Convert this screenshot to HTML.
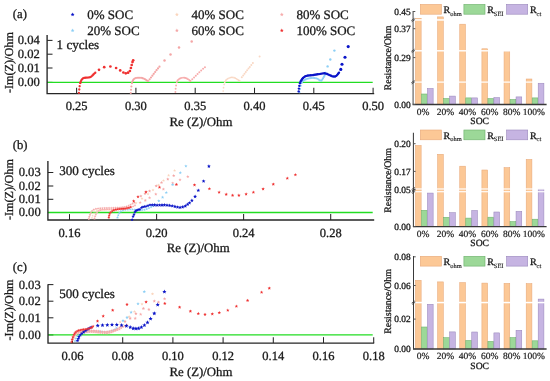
<!DOCTYPE html><html><head><meta charset="utf-8"><style>html,body{margin:0;padding:0;background:#fff;} svg{display:block;will-change:transform;} text{font-family:"Liberation Serif", serif;text-rendering:geometricPrecision;stroke:#1a1a1a;stroke-width:0.3px;}</style></head><body>
<svg width="550" height="381" viewBox="0 0 550 381">
<rect width="550" height="381" fill="#fff"/>
<line x1="76.6" y1="93.65" x2="76.6" y2="87.75" stroke="#262626" stroke-width="1.05"/>
<text x="76.60" y="110.20" font-size="12.5" text-anchor="middle" fill="#1a1a1a" >0.25</text>
<line x1="135.9" y1="93.65" x2="135.9" y2="87.75" stroke="#262626" stroke-width="1.05"/>
<text x="135.90" y="110.20" font-size="12.5" text-anchor="middle" fill="#1a1a1a" >0.30</text>
<line x1="195.2" y1="93.65" x2="195.2" y2="87.75" stroke="#262626" stroke-width="1.05"/>
<text x="195.20" y="110.20" font-size="12.5" text-anchor="middle" fill="#1a1a1a" >0.35</text>
<line x1="254.5" y1="93.65" x2="254.5" y2="87.75" stroke="#262626" stroke-width="1.05"/>
<text x="254.50" y="110.20" font-size="12.5" text-anchor="middle" fill="#1a1a1a" >0.40</text>
<line x1="313.8" y1="93.65" x2="313.8" y2="87.75" stroke="#262626" stroke-width="1.05"/>
<text x="313.80" y="110.20" font-size="12.5" text-anchor="middle" fill="#1a1a1a" >0.45</text>
<line x1="373.1" y1="93.65" x2="373.1" y2="87.75" stroke="#262626" stroke-width="1.05"/>
<text x="373.10" y="110.20" font-size="12.5" text-anchor="middle" fill="#1a1a1a" >0.50</text>
<line x1="47.1" y1="40.4" x2="52.5" y2="40.4" stroke="#262626" stroke-width="1.05"/>
<text x="39.80" y="44.00" font-size="12.6" text-anchor="end" fill="#1a1a1a" >0.04</text>
<line x1="47.1" y1="54.2" x2="52.5" y2="54.2" stroke="#262626" stroke-width="1.05"/>
<text x="39.80" y="57.80" font-size="12.6" text-anchor="end" fill="#1a1a1a" >0.02</text>
<line x1="47.1" y1="68.0" x2="52.5" y2="68.0" stroke="#262626" stroke-width="1.05"/>
<text x="39.80" y="71.60" font-size="12.6" text-anchor="end" fill="#1a1a1a" >0.01</text>
<line x1="47.1" y1="82.4" x2="52.5" y2="82.4" stroke="#262626" stroke-width="1.05"/>
<text x="39.80" y="86.00" font-size="12.6" text-anchor="end" fill="#1a1a1a" >0.00</text>
<line x1="47.1" y1="82.4" x2="372.7" y2="82.4" stroke="#22dd22" stroke-width="1.35"/>
<path d="M47.1 35 V93.65 H374.2" fill="none" stroke="#262626" stroke-width="1.35"/>
<text x="201.00" y="125.60" font-size="12.8" text-anchor="middle" fill="#1a1a1a" >Re (Z)/Ohm</text>
<text x="56.60" y="48.70" font-size="13.1" text-anchor="start" fill="#1a1a1a" >1 cycles</text>
<text x="12.80" y="18.40" font-size="12.7" text-anchor="start" fill="#1a1a1a" >(a)</text>
<text transform="translate(13.0 62.6) rotate(-90)" font-size="12.2" text-anchor="middle" fill="#1a1a1a">-Im(Z)/Ohm</text>
<polygon points="72.60,12.60 73.13,13.87 74.50,13.98 73.46,14.88 73.78,16.22 72.60,15.50 71.42,16.22 71.74,14.88 70.70,13.98 72.07,13.87" fill="#0a14c8"/>
<text x="87.20" y="19.20" font-size="13" text-anchor="start" fill="#1a1a1a" >0% SOC</text>
<polygon points="72.60,28.50 73.13,29.77 74.50,29.88 73.46,30.78 73.78,32.12 72.60,31.40 71.42,32.12 71.74,30.78 70.70,29.88 72.07,29.77" fill="#8ccff5"/>
<text x="87.20" y="35.10" font-size="13" text-anchor="start" fill="#1a1a1a" >20% SOC</text>
<polygon points="176.90,12.60 177.43,13.87 178.80,13.98 177.76,14.88 178.08,16.22 176.90,15.50 175.72,16.22 176.04,14.88 175.00,13.98 176.37,13.87" fill="#fad5bd"/>
<text x="191.50" y="19.20" font-size="13" text-anchor="start" fill="#1a1a1a" >40% SOC</text>
<polygon points="176.90,28.50 177.43,29.77 178.80,29.88 177.76,30.78 178.08,32.12 176.90,31.40 175.72,32.12 176.04,30.78 175.00,29.88 176.37,29.77" fill="#f4a6a6"/>
<text x="191.50" y="35.10" font-size="13" text-anchor="start" fill="#1a1a1a" >60% SOC</text>
<polygon points="281.80,12.60 282.33,13.87 283.70,13.98 282.66,14.88 282.98,16.22 281.80,15.50 280.62,16.22 280.94,14.88 279.90,13.98 281.27,13.87" fill="#f7acac"/>
<text x="296.40" y="19.20" font-size="13" text-anchor="start" fill="#1a1a1a" >80% SOC</text>
<polygon points="281.80,28.50 282.33,29.77 283.70,29.88 282.66,30.78 282.98,32.12 281.80,31.40 280.62,32.12 280.94,30.78 279.90,29.88 281.27,29.77" fill="#ef3030"/>
<text x="296.40" y="35.10" font-size="13" text-anchor="start" fill="#1a1a1a" >100% SOC</text>
<circle cx="223.20" cy="91.00" r="0.85" fill="#f9d8c4"/>
<circle cx="223.55" cy="87.72" r="0.85" fill="#f9d8c4"/>
<circle cx="224.15" cy="84.48" r="0.85" fill="#f9d8c4"/>
<circle cx="224.70" cy="82.50" r="0.85" fill="#f9d8c4"/>
<circle cx="225.30" cy="81.35" r="0.85" fill="#f9d8c4"/>
<circle cx="225.90" cy="80.19" r="0.85" fill="#f9d8c4"/>
<circle cx="226.87" cy="79.35" r="0.85" fill="#f9d8c4"/>
<circle cx="227.91" cy="78.57" r="0.85" fill="#f9d8c4"/>
<circle cx="229.08" cy="78.01" r="0.85" fill="#f9d8c4"/>
<circle cx="230.29" cy="77.56" r="0.85" fill="#f9d8c4"/>
<circle cx="231.57" cy="77.36" r="0.85" fill="#f9d8c4"/>
<circle cx="232.86" cy="77.43" r="0.85" fill="#f9d8c4"/>
<circle cx="234.13" cy="77.66" r="0.85" fill="#f9d8c4"/>
<circle cx="235.32" cy="78.19" r="0.85" fill="#f9d8c4"/>
<circle cx="236.46" cy="78.80" r="0.85" fill="#f9d8c4"/>
<circle cx="237.55" cy="79.51" r="0.85" fill="#f9d8c4"/>
<circle cx="238.66" cy="80.19" r="0.85" fill="#f9d8c4"/>
<circle cx="239.77" cy="80.86" r="0.85" fill="#f9d8c4"/>
<circle cx="241.80" cy="77.30" r="1.0" fill="#f9d8c4"/>
<circle cx="243.20" cy="75.50" r="1.0" fill="#f9d8c4"/>
<circle cx="244.50" cy="73.70" r="1.0" fill="#f9d8c4"/>
<circle cx="245.80" cy="72.00" r="1.0" fill="#f9d8c4"/>
<circle cx="247.10" cy="70.20" r="1.0" fill="#f9d8c4"/>
<circle cx="248.50" cy="68.60" r="1.0" fill="#f9d8c4"/>
<circle cx="249.80" cy="67.10" r="1.0" fill="#f9d8c4"/>
<circle cx="251.30" cy="65.00" r="1.0" fill="#f9d8c4"/>
<circle cx="252.90" cy="63.00" r="1.0" fill="#f9d8c4"/>
<circle cx="259.60" cy="56.40" r="1.0" fill="#f9d8c4"/>
<circle cx="175.40" cy="92.00" r="0.95" fill="#f7acac"/>
<circle cx="175.64" cy="88.71" r="0.95" fill="#f7acac"/>
<circle cx="176.09" cy="85.44" r="0.95" fill="#f7acac"/>
<circle cx="176.81" cy="82.23" r="0.95" fill="#f7acac"/>
<circle cx="177.50" cy="80.50" r="0.95" fill="#f7acac"/>
<circle cx="178.42" cy="79.58" r="0.95" fill="#f7acac"/>
<circle cx="179.43" cy="78.79" r="0.95" fill="#f7acac"/>
<circle cx="180.59" cy="78.20" r="0.95" fill="#f7acac"/>
<circle cx="181.83" cy="77.83" r="0.95" fill="#f7acac"/>
<circle cx="183.10" cy="77.61" r="0.95" fill="#f7acac"/>
<circle cx="184.40" cy="77.74" r="0.95" fill="#f7acac"/>
<circle cx="185.65" cy="78.03" r="0.95" fill="#f7acac"/>
<circle cx="186.88" cy="78.46" r="0.95" fill="#f7acac"/>
<circle cx="187.98" cy="79.14" r="0.95" fill="#f7acac"/>
<circle cx="189.07" cy="79.86" r="0.95" fill="#f7acac"/>
<circle cx="190.08" cy="80.67" r="0.95" fill="#f7acac"/>
<circle cx="190.50" cy="81.00" r="1.0" fill="#f7acac"/>
<circle cx="192.27" cy="79.23" r="1.0" fill="#f7acac"/>
<circle cx="194.04" cy="77.46" r="1.0" fill="#f7acac"/>
<circle cx="195.80" cy="75.70" r="1.0" fill="#f7acac"/>
<circle cx="197.57" cy="73.93" r="1.0" fill="#f7acac"/>
<circle cx="199.34" cy="72.16" r="1.0" fill="#f7acac"/>
<circle cx="201.16" cy="70.45" r="1.0" fill="#f7acac"/>
<circle cx="203.08" cy="68.85" r="1.0" fill="#f7acac"/>
<circle cx="204.95" cy="67.19" r="1.0" fill="#f7acac"/>
<circle cx="130.80" cy="93.00" r="1.05" fill="#f4a6a6"/>
<circle cx="131.03" cy="89.71" r="1.05" fill="#f4a6a6"/>
<circle cx="131.38" cy="86.43" r="1.05" fill="#f4a6a6"/>
<circle cx="131.90" cy="83.17" r="1.05" fill="#f4a6a6"/>
<circle cx="132.30" cy="81.50" r="1.05" fill="#f4a6a6"/>
<circle cx="132.97" cy="80.39" r="1.05" fill="#f4a6a6"/>
<circle cx="133.71" cy="79.33" r="1.05" fill="#f4a6a6"/>
<circle cx="134.72" cy="78.52" r="1.05" fill="#f4a6a6"/>
<circle cx="135.92" cy="78.07" r="1.05" fill="#f4a6a6"/>
<circle cx="137.18" cy="77.79" r="1.05" fill="#f4a6a6"/>
<circle cx="138.48" cy="77.73" r="1.05" fill="#f4a6a6"/>
<circle cx="139.78" cy="77.74" r="1.05" fill="#f4a6a6"/>
<circle cx="141.08" cy="77.82" r="1.05" fill="#f4a6a6"/>
<circle cx="142.34" cy="78.13" r="1.05" fill="#f4a6a6"/>
<circle cx="143.56" cy="78.55" r="1.05" fill="#f4a6a6"/>
<circle cx="144.75" cy="79.09" r="1.05" fill="#f4a6a6"/>
<circle cx="145.85" cy="79.77" r="1.05" fill="#f4a6a6"/>
<circle cx="146.96" cy="80.45" r="1.05" fill="#f4a6a6"/>
<circle cx="148.00" cy="81.00" r="1.1" fill="#f4a6a6"/>
<circle cx="149.61" cy="79.36" r="1.1" fill="#f4a6a6"/>
<circle cx="150.99" cy="77.52" r="1.1" fill="#f4a6a6"/>
<circle cx="152.37" cy="75.68" r="1.1" fill="#f4a6a6"/>
<circle cx="153.75" cy="73.84" r="1.1" fill="#f4a6a6"/>
<circle cx="155.13" cy="72.00" r="1.1" fill="#f4a6a6"/>
<circle cx="156.55" cy="70.19" r="1.1" fill="#f4a6a6"/>
<circle cx="158.00" cy="68.40" r="1.1" fill="#f4a6a6"/>
<circle cx="159.47" cy="66.64" r="1.1" fill="#f4a6a6"/>
<circle cx="164.50" cy="60.50" r="1.25" fill="#f4a6a6"/>
<circle cx="170.50" cy="54.50" r="1.25" fill="#f4a6a6"/>
<circle cx="179.00" cy="47.50" r="1.25" fill="#f4a6a6"/>
<circle cx="191.70" cy="41.60" r="1.25" fill="#f4a6a6"/>
<circle cx="78.90" cy="92.80" r="1.15" fill="#ef3030"/>
<circle cx="79.27" cy="89.52" r="1.15" fill="#ef3030"/>
<circle cx="79.64" cy="86.24" r="1.15" fill="#ef3030"/>
<circle cx="80.26" cy="83.00" r="1.15" fill="#ef3030"/>
<circle cx="80.30" cy="82.80" r="1.15" fill="#ef3030"/>
<circle cx="80.76" cy="81.58" r="1.15" fill="#ef3030"/>
<circle cx="81.22" cy="80.37" r="1.15" fill="#ef3030"/>
<circle cx="82.02" cy="79.34" r="1.15" fill="#ef3030"/>
<circle cx="82.93" cy="78.46" r="1.15" fill="#ef3030"/>
<circle cx="84.11" cy="77.93" r="1.15" fill="#ef3030"/>
<circle cx="85.39" cy="77.76" r="1.15" fill="#ef3030"/>
<circle cx="86.68" cy="77.70" r="1.15" fill="#ef3030"/>
<circle cx="87.98" cy="77.60" r="1.15" fill="#ef3030"/>
<circle cx="89.27" cy="77.44" r="1.15" fill="#ef3030"/>
<circle cx="90.50" cy="77.03" r="1.15" fill="#ef3030"/>
<circle cx="91.56" cy="76.32" r="1.15" fill="#ef3030"/>
<circle cx="92.53" cy="75.45" r="1.15" fill="#ef3030"/>
<circle cx="93.40" cy="74.49" r="1.15" fill="#ef3030"/>
<circle cx="94.31" cy="73.57" r="1.15" fill="#ef3030"/>
<circle cx="95.31" cy="72.74" r="1.15" fill="#ef3030"/>
<circle cx="99.00" cy="69.80" r="1.35" fill="#ef3030"/>
<circle cx="104.20" cy="67.20" r="1.35" fill="#ef3030"/>
<circle cx="110.40" cy="66.50" r="1.35" fill="#ef3030"/>
<circle cx="116.10" cy="68.00" r="1.35" fill="#ef3030"/>
<circle cx="120.20" cy="70.40" r="1.35" fill="#ef3030"/>
<circle cx="123.40" cy="72.50" r="1.35" fill="#ef3030"/>
<circle cx="125.80" cy="73.30" r="1.35" fill="#ef3030"/>
<circle cx="128.10" cy="72.70" r="1.35" fill="#ef3030"/>
<circle cx="129.90" cy="71.00" r="1.35" fill="#ef3030"/>
<circle cx="130.90" cy="68.00" r="1.35" fill="#ef3030"/>
<circle cx="131.70" cy="65.00" r="1.35" fill="#ef3030"/>
<circle cx="132.50" cy="62.10" r="1.35" fill="#ef3030"/>
<circle cx="133.20" cy="60.30" r="1.35" fill="#ef3030"/>
<circle cx="299.40" cy="92.20" r="1.05" fill="#8ccff5"/>
<circle cx="300.01" cy="88.96" r="1.05" fill="#8ccff5"/>
<circle cx="300.70" cy="85.73" r="1.05" fill="#8ccff5"/>
<circle cx="301.80" cy="82.63" r="1.05" fill="#8ccff5"/>
<circle cx="302.10" cy="81.90" r="1.05" fill="#8ccff5"/>
<circle cx="303.22" cy="80.91" r="1.05" fill="#8ccff5"/>
<circle cx="304.46" cy="80.07" r="1.05" fill="#8ccff5"/>
<circle cx="305.80" cy="79.40" r="1.05" fill="#8ccff5"/>
<circle cx="307.17" cy="78.81" r="1.05" fill="#8ccff5"/>
<circle cx="308.63" cy="78.46" r="1.05" fill="#8ccff5"/>
<circle cx="310.09" cy="78.17" r="1.05" fill="#8ccff5"/>
<circle cx="311.59" cy="78.05" r="1.05" fill="#8ccff5"/>
<circle cx="313.08" cy="77.93" r="1.05" fill="#8ccff5"/>
<circle cx="314.57" cy="78.09" r="1.05" fill="#8ccff5"/>
<circle cx="316.05" cy="78.34" r="1.05" fill="#8ccff5"/>
<circle cx="317.45" cy="78.79" r="1.05" fill="#8ccff5"/>
<circle cx="318.72" cy="79.59" r="1.05" fill="#8ccff5"/>
<circle cx="319.99" cy="80.39" r="1.05" fill="#8ccff5"/>
<circle cx="321.41" cy="80.78" r="1.05" fill="#8ccff5"/>
<circle cx="322.23" cy="79.52" r="1.05" fill="#8ccff5"/>
<circle cx="323.04" cy="78.26" r="1.05" fill="#8ccff5"/>
<circle cx="323.82" cy="76.97" r="1.05" fill="#8ccff5"/>
<circle cx="324.52" cy="75.65" r="1.05" fill="#8ccff5"/>
<circle cx="325.00" cy="74.23" r="1.05" fill="#8ccff5"/>
<circle cx="325.49" cy="72.81" r="1.05" fill="#8ccff5"/>
<circle cx="327.60" cy="66.40" r="1.2" fill="#8ccff5"/>
<circle cx="330.30" cy="59.50" r="1.2" fill="#8ccff5"/>
<circle cx="334.40" cy="50.60" r="1.2" fill="#8ccff5"/>
<circle cx="298.70" cy="91.40" r="1.2" fill="#0a14c8"/>
<circle cx="298.95" cy="88.61" r="1.2" fill="#0a14c8"/>
<circle cx="299.34" cy="85.84" r="1.2" fill="#0a14c8"/>
<circle cx="300.02" cy="83.13" r="1.2" fill="#0a14c8"/>
<circle cx="300.60" cy="81.40" r="1.2" fill="#0a14c8"/>
<circle cx="301.31" cy="80.19" r="1.2" fill="#0a14c8"/>
<circle cx="302.13" cy="79.06" r="1.2" fill="#0a14c8"/>
<circle cx="303.03" cy="77.99" r="1.2" fill="#0a14c8"/>
<circle cx="304.11" cy="77.10" r="1.2" fill="#0a14c8"/>
<circle cx="305.25" cy="76.32" r="1.2" fill="#0a14c8"/>
<circle cx="306.58" cy="75.89" r="1.2" fill="#0a14c8"/>
<circle cx="307.94" cy="75.55" r="1.2" fill="#0a14c8"/>
<circle cx="309.33" cy="75.41" r="1.2" fill="#0a14c8"/>
<circle cx="310.72" cy="75.27" r="1.2" fill="#0a14c8"/>
<circle cx="312.11" cy="75.13" r="1.2" fill="#0a14c8"/>
<circle cx="313.51" cy="74.98" r="1.2" fill="#0a14c8"/>
<circle cx="314.89" cy="74.74" r="1.2" fill="#0a14c8"/>
<circle cx="316.27" cy="74.51" r="1.2" fill="#0a14c8"/>
<circle cx="317.65" cy="74.31" r="1.2" fill="#0a14c8"/>
<circle cx="319.04" cy="74.12" r="1.2" fill="#0a14c8"/>
<circle cx="320.41" cy="73.86" r="1.2" fill="#0a14c8"/>
<circle cx="321.79" cy="73.58" r="1.2" fill="#0a14c8"/>
<circle cx="323.17" cy="73.37" r="1.2" fill="#0a14c8"/>
<circle cx="324.55" cy="73.24" r="1.2" fill="#0a14c8"/>
<circle cx="325.90" cy="73.61" r="1.2" fill="#0a14c8"/>
<circle cx="327.23" cy="74.06" r="1.2" fill="#0a14c8"/>
<circle cx="328.52" cy="74.59" r="1.2" fill="#0a14c8"/>
<circle cx="329.81" cy="75.14" r="1.2" fill="#0a14c8"/>
<circle cx="331.08" cy="75.74" r="1.2" fill="#0a14c8"/>
<circle cx="332.35" cy="76.33" r="1.2" fill="#0a14c8"/>
<circle cx="333.72" cy="76.57" r="1.2" fill="#0a14c8"/>
<circle cx="335.06" cy="76.51" r="1.2" fill="#0a14c8"/>
<circle cx="336.30" cy="75.86" r="1.2" fill="#0a14c8"/>
<circle cx="337.25" cy="74.86" r="1.2" fill="#0a14c8"/>
<circle cx="338.11" cy="73.75" r="1.2" fill="#0a14c8"/>
<circle cx="338.97" cy="72.65" r="1.2" fill="#0a14c8"/>
<circle cx="340.80" cy="69.40" r="1.55" fill="#0a14c8"/>
<circle cx="342.00" cy="64.20" r="1.55" fill="#0a14c8"/>
<circle cx="345.00" cy="57.30" r="1.55" fill="#0a14c8"/>
<circle cx="348.20" cy="46.60" r="1.55" fill="#0a14c8"/>
<line x1="69.5" y1="220.0" x2="69.5" y2="214.1" stroke="#262626" stroke-width="1.05"/>
<text x="69.50" y="237.30" font-size="12.5" text-anchor="middle" fill="#1a1a1a" >0.16</text>
<line x1="156.6" y1="220.0" x2="156.6" y2="214.1" stroke="#262626" stroke-width="1.05"/>
<text x="156.60" y="237.30" font-size="12.5" text-anchor="middle" fill="#1a1a1a" >0.20</text>
<line x1="243.6" y1="220.0" x2="243.6" y2="214.1" stroke="#262626" stroke-width="1.05"/>
<text x="243.60" y="237.30" font-size="12.5" text-anchor="middle" fill="#1a1a1a" >0.24</text>
<line x1="330.7" y1="220.0" x2="330.7" y2="214.1" stroke="#262626" stroke-width="1.05"/>
<text x="330.70" y="237.30" font-size="12.5" text-anchor="middle" fill="#1a1a1a" >0.28</text>
<line x1="47.9" y1="172.5" x2="53.3" y2="172.5" stroke="#262626" stroke-width="1.05"/>
<text x="40.70" y="176.10" font-size="12.6" text-anchor="end" fill="#1a1a1a" >0.03</text>
<line x1="47.9" y1="186.0" x2="53.3" y2="186.0" stroke="#262626" stroke-width="1.05"/>
<text x="40.70" y="189.60" font-size="12.6" text-anchor="end" fill="#1a1a1a" >0.02</text>
<line x1="47.9" y1="199.3" x2="53.3" y2="199.3" stroke="#262626" stroke-width="1.05"/>
<text x="40.70" y="202.90" font-size="12.6" text-anchor="end" fill="#1a1a1a" >0.01</text>
<line x1="47.9" y1="212.5" x2="53.3" y2="212.5" stroke="#262626" stroke-width="1.05"/>
<text x="40.70" y="216.10" font-size="12.6" text-anchor="end" fill="#1a1a1a" >0.00</text>
<line x1="47.9" y1="212.5" x2="372.7" y2="212.5" stroke="#22dd22" stroke-width="1.35"/>
<path d="M47.9 161 V220.0 H374.2" fill="none" stroke="#262626" stroke-width="1.35"/>
<text x="198.20" y="251.50" font-size="12.8" text-anchor="middle" fill="#1a1a1a" >Re (Z)/Ohm</text>
<text x="59.20" y="174.90" font-size="13.1" text-anchor="start" fill="#1a1a1a" >300 cycles</text>
<text x="12.80" y="148.60" font-size="12.7" text-anchor="start" fill="#1a1a1a" >(b)</text>
<text transform="translate(13.0 189.6) rotate(-90)" font-size="12.2" text-anchor="middle" fill="#1a1a1a">-Im(Z)/Ohm</text>
<polygon points="117.50,216.00 117.90,216.95 118.93,217.04 118.14,217.71 118.38,218.71 117.50,218.18 116.62,218.71 116.86,217.71 116.07,217.04 117.10,216.95" fill="#8ccff5"/>
<polygon points="118.26,213.72 118.66,214.68 119.69,214.76 118.90,215.43 119.14,216.44 118.26,215.90 117.38,216.44 117.62,215.43 116.83,214.76 117.86,214.68" fill="#8ccff5"/>
<polygon points="119.34,211.60 119.74,212.55 120.77,212.63 119.98,213.30 120.22,214.31 119.34,213.77 118.46,214.31 118.70,213.30 117.92,212.63 118.95,212.55" fill="#8ccff5"/>
<polygon points="120.93,209.87 121.32,210.82 122.35,210.91 121.57,211.58 121.81,212.58 120.93,212.04 120.05,212.58 120.29,211.58 119.50,210.91 120.53,210.82" fill="#8ccff5"/>
<polygon points="122.99,208.70 123.39,209.66 124.42,209.74 123.63,210.41 123.87,211.42 122.99,210.88 122.11,211.42 122.35,210.41 121.56,209.74 122.59,209.66" fill="#8ccff5"/>
<polygon points="125.34,208.23 125.74,209.19 126.77,209.27 125.98,209.94 126.22,210.94 125.34,210.41 124.46,210.94 124.70,209.94 123.92,209.27 124.95,209.19" fill="#8ccff5"/>
<polygon points="127.72,207.97 128.12,208.92 129.15,209.01 128.37,209.68 128.61,210.68 127.72,210.15 126.84,210.68 127.08,209.68 126.30,209.01 127.33,208.92" fill="#8ccff5"/>
<polygon points="130.12,207.81 130.52,208.76 131.54,208.84 130.76,209.51 131.00,210.52 130.12,209.98 129.24,210.52 129.48,209.51 128.69,208.84 129.72,208.76" fill="#8ccff5"/>
<polygon points="132.52,207.93 132.91,208.88 133.94,208.96 133.16,209.63 133.40,210.64 132.52,210.10 131.63,210.64 131.87,209.63 131.09,208.96 132.12,208.88" fill="#8ccff5"/>
<polygon points="134.91,208.07 135.31,209.02 136.34,209.10 135.55,209.78 135.79,210.78 134.91,210.24 134.03,210.78 134.27,209.78 133.48,209.10 134.51,209.02" fill="#8ccff5"/>
<polygon points="137.30,208.25 137.70,209.20 138.73,209.28 137.95,209.96 138.19,210.96 137.30,210.42 136.42,210.96 136.66,209.96 135.88,209.28 136.91,209.20" fill="#8ccff5"/>
<polygon points="139.70,208.39 140.10,209.34 141.13,209.42 140.34,210.09 140.58,211.10 139.70,210.56 138.82,211.10 139.06,210.09 138.27,209.42 139.30,209.34" fill="#8ccff5"/>
<polygon points="142.10,208.49 142.49,209.45 143.52,209.53 142.74,210.20 142.98,211.21 142.10,210.67 141.22,211.21 141.46,210.20 140.67,209.53 141.70,209.45" fill="#8ccff5"/>
<polygon points="144.49,208.33 144.89,209.29 145.92,209.37 145.13,210.04 145.37,211.05 144.49,210.51 143.61,211.05 143.85,210.04 143.07,209.37 144.09,209.29" fill="#8ccff5"/>
<polygon points="146.74,207.56 147.14,208.52 148.17,208.60 147.38,209.27 147.62,210.28 146.74,209.74 145.86,210.28 146.10,209.27 145.31,208.60 146.34,208.52" fill="#8ccff5"/>
<polygon points="148.92,206.56 149.32,207.52 150.35,207.60 149.56,208.27 149.80,209.28 148.92,208.74 148.04,209.28 148.28,208.27 147.50,207.60 148.53,207.52" fill="#8ccff5"/>
<polygon points="151.08,205.52 151.48,206.47 152.51,206.56 151.72,207.23 151.96,208.23 151.08,207.69 150.20,208.23 150.44,207.23 149.66,206.56 150.69,206.47" fill="#8ccff5"/>
<polygon points="153.24,204.47 153.64,205.42 154.67,205.50 153.88,206.18 154.12,207.18 153.24,206.64 152.36,207.18 152.60,206.18 151.81,205.50 152.84,205.42" fill="#8ccff5"/>
<polygon points="155.12,203.03 155.51,203.99 156.54,204.07 155.76,204.74 156.00,205.75 155.12,205.21 154.24,205.75 154.48,204.74 153.69,204.07 154.72,203.99" fill="#8ccff5"/>
<polygon points="92.00,216.70 92.34,217.53 93.24,217.60 92.56,218.18 92.76,219.05 92.00,218.59 91.24,219.05 91.44,218.18 90.76,217.60 91.66,217.53" fill="#fad5bd"/>
<polygon points="92.66,214.39 93.00,215.22 93.90,215.29 93.22,215.87 93.42,216.74 92.66,216.28 91.90,216.74 92.10,215.87 91.42,215.29 92.32,215.22" fill="#fad5bd"/>
<polygon points="93.60,212.21 93.94,213.03 94.83,213.10 94.15,213.69 94.36,214.56 93.60,214.09 92.83,214.56 93.04,213.69 92.36,213.10 93.25,213.03" fill="#fad5bd"/>
<polygon points="95.03,210.34 95.38,211.16 96.27,211.24 95.59,211.82 95.80,212.69 95.03,212.22 94.27,212.69 94.48,211.82 93.80,211.24 94.69,211.16" fill="#fad5bd"/>
<polygon points="97.02,209.00 97.36,209.82 98.26,209.90 97.58,210.48 97.79,211.35 97.02,210.88 96.26,211.35 96.46,210.48 95.78,209.90 96.68,209.82" fill="#fad5bd"/>
<polygon points="99.39,208.64 99.74,209.47 100.63,209.54 99.95,210.12 100.16,210.99 99.39,210.53 98.63,210.99 98.84,210.12 98.16,209.54 99.05,209.47" fill="#fad5bd"/>
<polygon points="101.78,208.39 102.12,209.22 103.01,209.29 102.33,209.87 102.54,210.74 101.78,210.27 101.01,210.74 101.22,209.87 100.54,209.29 101.43,209.22" fill="#fad5bd"/>
<polygon points="104.18,208.35 104.52,209.18 105.41,209.25 104.73,209.84 104.94,210.71 104.18,210.24 103.41,210.71 103.62,209.84 102.94,209.25 103.83,209.18" fill="#fad5bd"/>
<polygon points="106.58,208.32 106.92,209.15 107.81,209.22 107.13,209.80 107.34,210.67 106.58,210.21 105.81,210.67 106.02,209.80 105.34,209.22 106.23,209.15" fill="#fad5bd"/>
<polygon points="108.98,208.28 109.32,209.10 110.21,209.17 109.53,209.76 109.74,210.63 108.98,210.16 108.21,210.63 108.42,209.76 107.74,209.17 108.63,209.10" fill="#fad5bd"/>
<polygon points="111.37,208.22 111.72,209.04 112.61,209.11 111.93,209.70 112.14,210.57 111.37,210.10 110.61,210.57 110.82,209.70 110.14,209.11 111.03,209.04" fill="#fad5bd"/>
<polygon points="113.77,208.16 114.12,208.98 115.01,209.05 114.33,209.64 114.54,210.51 113.77,210.04 113.01,210.51 113.22,209.64 112.54,209.05 113.43,208.98" fill="#fad5bd"/>
<polygon points="116.17,208.09 116.52,208.92 117.41,208.99 116.73,209.57 116.94,210.44 116.17,209.98 115.41,210.44 115.62,209.57 114.94,208.99 115.83,208.92" fill="#fad5bd"/>
<polygon points="118.57,207.97 118.91,208.80 119.81,208.87 119.13,209.45 119.33,210.32 118.57,209.86 117.81,210.32 118.01,209.45 117.33,208.87 118.23,208.80" fill="#fad5bd"/>
<polygon points="120.97,207.85 121.31,208.68 122.20,208.75 121.52,209.33 121.73,210.20 120.97,209.74 120.20,210.20 120.41,209.33 119.73,208.75 120.62,208.68" fill="#fad5bd"/>
<polygon points="123.36,207.73 123.71,208.56 124.60,208.63 123.92,209.21 124.13,210.08 123.36,209.62 122.60,210.08 122.81,209.21 122.13,208.63 123.02,208.56" fill="#fad5bd"/>
<polygon points="125.71,207.27 126.05,208.10 126.95,208.17 126.27,208.75 126.47,209.62 125.71,209.16 124.95,209.62 125.15,208.75 124.47,208.17 125.37,208.10" fill="#fad5bd"/>
<polygon points="128.04,206.69 128.38,207.52 129.28,207.59 128.60,208.17 128.80,209.04 128.04,208.58 127.27,209.04 127.48,208.17 126.80,207.59 127.70,207.52" fill="#fad5bd"/>
<polygon points="136.00,201.40 136.42,202.42 137.52,202.51 136.68,203.22 136.94,204.29 136.00,203.72 135.06,204.29 135.32,203.22 134.48,202.51 135.58,202.42" fill="#fad5bd"/>
<polygon points="142.00,196.90 142.42,197.92 143.52,198.01 142.68,198.72 142.94,199.79 142.00,199.22 141.06,199.79 141.32,198.72 140.48,198.01 141.58,197.92" fill="#fad5bd"/>
<polygon points="148.00,192.40 148.42,193.42 149.52,193.51 148.68,194.22 148.94,195.29 148.00,194.72 147.06,195.29 147.32,194.22 146.48,193.51 147.58,193.42" fill="#fad5bd"/>
<polygon points="153.00,188.40 153.42,189.42 154.52,189.51 153.68,190.22 153.94,191.29 153.00,190.72 152.06,191.29 152.32,190.22 151.48,189.51 152.58,189.42" fill="#fad5bd"/>
<polygon points="158.60,183.60 159.02,184.62 160.12,184.71 159.28,185.42 159.54,186.49 158.60,185.92 157.66,186.49 157.92,185.42 157.08,184.71 158.18,184.62" fill="#fad5bd"/>
<polygon points="163.50,178.90 163.92,179.92 165.02,180.01 164.18,180.72 164.44,181.79 163.50,181.22 162.56,181.79 162.82,180.72 161.98,180.01 163.08,179.92" fill="#fad5bd"/>
<polygon points="168.60,173.80 169.02,174.82 170.12,174.91 169.28,175.62 169.54,176.69 168.60,176.12 167.66,176.69 167.92,175.62 167.08,174.91 168.18,174.82" fill="#fad5bd"/>
<polygon points="174.60,168.90 175.02,169.92 176.12,170.01 175.28,170.72 175.54,171.79 174.60,171.22 173.66,171.79 173.92,170.72 173.08,170.01 174.18,169.92" fill="#fad5bd"/>
<polygon points="94.50,217.10 94.87,217.99 95.83,218.07 95.10,218.69 95.32,219.63 94.50,219.13 93.68,219.63 93.90,218.69 93.17,218.07 94.13,217.99" fill="#f7acac"/>
<polygon points="95.10,214.98 95.47,215.87 96.44,215.95 95.70,216.58 95.93,217.52 95.10,217.01 94.28,217.52 94.51,216.58 93.77,215.95 94.73,215.87" fill="#f7acac"/>
<polygon points="95.89,212.95 96.26,213.84 97.22,213.92 96.49,214.54 96.71,215.48 95.89,214.98 95.07,215.48 95.29,214.54 94.56,213.92 95.52,213.84" fill="#f7acac"/>
<polygon points="97.03,211.07 97.41,211.96 98.37,212.04 97.63,212.67 97.86,213.60 97.03,213.10 96.21,213.60 96.44,212.67 95.70,212.04 96.66,211.96" fill="#f7acac"/>
<polygon points="98.75,209.70 99.12,210.59 100.08,210.67 99.35,211.29 99.58,212.23 98.75,211.73 97.93,212.23 98.15,211.29 97.42,210.67 98.38,210.59" fill="#f7acac"/>
<polygon points="100.67,208.68 101.04,209.57 102.00,209.65 101.27,210.27 101.49,211.21 100.67,210.71 99.85,211.21 100.07,210.27 99.34,209.65 100.30,209.57" fill="#f7acac"/>
<polygon points="102.79,208.17 103.16,209.06 104.12,209.14 103.38,209.77 103.61,210.71 102.79,210.20 101.96,210.71 102.19,209.77 101.45,209.14 102.42,209.06" fill="#f7acac"/>
<polygon points="104.98,208.10 105.35,208.99 106.32,209.07 105.58,209.70 105.81,210.63 104.98,210.13 104.16,210.63 104.39,209.70 103.65,209.07 104.61,208.99" fill="#f7acac"/>
<polygon points="107.18,208.03 107.55,208.92 108.51,208.99 107.78,209.62 108.01,210.56 107.18,210.06 106.36,210.56 106.58,209.62 105.85,208.99 106.81,208.92" fill="#f7acac"/>
<polygon points="109.38,207.98 109.75,208.87 110.71,208.94 109.98,209.57 110.21,210.51 109.38,210.01 108.56,210.51 108.78,209.57 108.05,208.94 109.01,208.87" fill="#f7acac"/>
<polygon points="111.58,207.94 111.95,208.83 112.91,208.91 112.18,209.53 112.40,210.47 111.58,209.97 110.76,210.47 110.98,209.53 110.25,208.91 111.21,208.83" fill="#f7acac"/>
<polygon points="113.78,207.90 114.15,208.79 115.11,208.87 114.38,209.50 114.60,210.44 113.78,209.93 112.96,210.44 113.18,209.50 112.45,208.87 113.41,208.79" fill="#f7acac"/>
<polygon points="115.98,207.87 116.35,208.76 117.31,208.83 116.58,209.46 116.80,210.40 115.98,209.90 115.16,210.40 115.38,209.46 114.65,208.83 115.61,208.76" fill="#f7acac"/>
<polygon points="118.18,207.83 118.55,208.72 119.51,208.80 118.78,209.42 119.00,210.36 118.18,209.86 117.36,210.36 117.58,209.42 116.85,208.80 117.81,208.72" fill="#f7acac"/>
<polygon points="120.38,207.79 120.75,208.68 121.71,208.75 120.98,209.38 121.20,210.32 120.38,209.82 119.56,210.32 119.78,209.38 119.05,208.75 120.01,208.68" fill="#f7acac"/>
<polygon points="122.58,207.71 122.95,208.60 123.91,208.68 123.18,209.31 123.40,210.25 122.58,209.74 121.76,210.25 121.98,209.31 121.25,208.68 122.21,208.60" fill="#f7acac"/>
<polygon points="124.78,207.64 125.15,208.53 126.11,208.61 125.38,209.24 125.60,210.17 124.78,209.67 123.96,210.17 124.18,209.24 123.45,208.61 124.41,208.53" fill="#f7acac"/>
<polygon points="126.95,207.36 127.32,208.25 128.28,208.33 127.55,208.96 127.77,209.90 126.95,209.39 126.13,209.90 126.35,208.96 125.62,208.33 126.58,208.25" fill="#f7acac"/>
<polygon points="129.08,206.83 129.45,207.72 130.41,207.80 129.68,208.42 129.91,209.36 129.08,208.86 128.26,209.36 128.48,208.42 127.75,207.80 128.71,207.72" fill="#f7acac"/>
<polygon points="131.12,206.04 131.49,206.93 132.45,207.01 131.72,207.63 131.94,208.57 131.12,208.07 130.30,208.57 130.52,207.63 129.79,207.01 130.75,206.93" fill="#f7acac"/>
<polygon points="133.09,205.05 133.46,205.94 134.42,206.02 133.69,206.64 133.91,207.58 133.09,207.08 132.26,207.58 132.49,206.64 131.76,206.02 132.72,205.94" fill="#f7acac"/>
<polygon points="135.00,203.96 135.37,204.85 136.33,204.93 135.60,205.55 135.82,206.49 135.00,205.99 134.17,206.49 134.40,205.55 133.67,204.93 134.63,204.85" fill="#f7acac"/>
<polygon points="140.20,200.90 140.65,201.98 141.82,202.07 140.93,202.84 141.20,203.98 140.20,203.36 139.20,203.98 139.47,202.84 138.58,202.07 139.75,201.98" fill="#f7acac"/>
<polygon points="145.30,198.70 145.75,199.78 146.92,199.87 146.03,200.64 146.30,201.78 145.30,201.16 144.30,201.78 144.57,200.64 143.68,199.87 144.85,199.78" fill="#f7acac"/>
<polygon points="149.60,196.10 150.05,197.18 151.22,197.27 150.33,198.04 150.60,199.18 149.60,198.56 148.60,199.18 148.87,198.04 147.98,197.27 149.15,197.18" fill="#f7acac"/>
<polygon points="155.80,192.50 156.25,193.58 157.42,193.67 156.53,194.44 156.80,195.58 155.80,194.96 154.80,195.58 155.07,194.44 154.18,193.67 155.35,193.58" fill="#f7acac"/>
<polygon points="163.40,187.50 163.85,188.58 165.02,188.67 164.13,189.44 164.40,190.58 163.40,189.96 162.40,190.58 162.67,189.44 161.78,188.67 162.95,188.58" fill="#f7acac"/>
<polygon points="172.70,181.40 173.15,182.48 174.32,182.57 173.43,183.34 173.70,184.48 172.70,183.86 171.70,184.48 171.97,183.34 171.08,182.57 172.25,182.48" fill="#f7acac"/>
<polygon points="180.00,178.10 180.45,179.18 181.62,179.27 180.73,180.04 181.00,181.18 180.00,180.56 179.00,181.18 179.27,180.04 178.38,179.27 179.55,179.18" fill="#f7acac"/>
<polygon points="187.80,175.00 188.25,176.08 189.42,176.17 188.53,176.94 188.80,178.08 187.80,177.46 186.80,178.08 187.07,176.94 186.18,176.17 187.35,176.08" fill="#f7acac"/>
<polygon points="88.80,217.60 89.17,218.49 90.13,218.57 89.40,219.19 89.62,220.13 88.80,219.63 87.98,220.13 88.20,219.19 87.47,218.57 88.43,218.49" fill="#f4a6a6"/>
<polygon points="89.30,215.46 89.67,216.35 90.63,216.42 89.90,217.05 90.12,217.99 89.30,217.49 88.48,217.99 88.70,217.05 87.97,216.42 88.93,216.35" fill="#f4a6a6"/>
<polygon points="89.99,213.37 90.36,214.27 91.32,214.34 90.59,214.97 90.81,215.91 89.99,215.40 89.17,215.91 89.39,214.97 88.66,214.34 89.62,214.27" fill="#f4a6a6"/>
<polygon points="90.93,211.39 91.30,212.28 92.26,212.36 91.52,212.99 91.75,213.92 90.93,213.42 90.10,213.92 90.33,212.99 89.59,212.36 90.56,212.28" fill="#f4a6a6"/>
<polygon points="92.09,209.53 92.46,210.42 93.42,210.50 92.69,211.13 92.91,212.07 92.09,211.56 91.27,212.07 91.49,211.13 90.76,210.50 91.72,210.42" fill="#f4a6a6"/>
<polygon points="93.85,208.21 94.22,209.10 95.18,209.18 94.45,209.81 94.67,210.75 93.85,210.24 93.03,210.75 93.25,209.81 92.52,209.18 93.48,209.10" fill="#f4a6a6"/>
<polygon points="95.91,207.46 96.28,208.35 97.24,208.43 96.51,209.06 96.73,210.00 95.91,209.49 95.09,210.00 95.31,209.06 94.58,208.43 95.54,208.35" fill="#f4a6a6"/>
<polygon points="98.05,207.04 98.42,207.93 99.38,208.00 98.65,208.63 98.87,209.57 98.05,209.07 97.22,209.57 97.45,208.63 96.72,208.00 97.68,207.93" fill="#f4a6a6"/>
<polygon points="100.24,206.91 100.61,207.80 101.57,207.87 100.84,208.50 101.07,209.44 100.24,208.94 99.42,209.44 99.64,208.50 98.91,207.87 99.87,207.80" fill="#f4a6a6"/>
<polygon points="102.44,206.79 102.81,207.68 103.77,207.75 103.04,208.38 103.26,209.32 102.44,208.82 101.62,209.32 101.84,208.38 101.11,207.75 102.07,207.68" fill="#f4a6a6"/>
<polygon points="104.64,206.71 105.01,207.60 105.97,207.68 105.24,208.31 105.46,209.24 104.64,208.74 103.82,209.24 104.04,208.31 103.31,207.68 104.27,207.60" fill="#f4a6a6"/>
<polygon points="106.84,206.64 107.21,207.53 108.17,207.61 107.44,208.23 107.66,209.17 106.84,208.67 106.01,209.17 106.24,208.23 105.51,207.61 106.47,207.53" fill="#f4a6a6"/>
<polygon points="109.04,206.57 109.41,207.46 110.37,207.53 109.64,208.16 109.86,209.10 109.04,208.60 108.21,209.10 108.44,208.16 107.70,207.53 108.67,207.46" fill="#f4a6a6"/>
<polygon points="111.23,206.49 111.61,207.38 112.57,207.46 111.83,208.09 112.06,209.02 111.23,208.52 110.41,209.02 110.64,208.09 109.90,207.46 110.86,207.38" fill="#f4a6a6"/>
<polygon points="113.43,206.42 113.80,207.31 114.77,207.39 114.03,208.01 114.26,208.95 113.43,208.45 112.61,208.95 112.83,208.01 112.10,207.39 113.06,207.31" fill="#f4a6a6"/>
<polygon points="115.63,206.32 116.00,207.21 116.96,207.29 116.23,207.91 116.45,208.85 115.63,208.35 114.81,208.85 115.03,207.91 114.30,207.29 115.26,207.21" fill="#f4a6a6"/>
<polygon points="117.83,206.21 118.20,207.10 119.16,207.18 118.43,207.80 118.65,208.74 117.83,208.24 117.01,208.74 117.23,207.80 116.50,207.18 117.46,207.10" fill="#f4a6a6"/>
<polygon points="120.03,206.10 120.40,206.99 121.36,207.06 120.62,207.69 120.85,208.63 120.03,208.13 119.20,208.63 119.43,207.69 118.69,207.06 119.66,206.99" fill="#f4a6a6"/>
<polygon points="122.21,205.88 122.59,206.77 123.55,206.85 122.81,207.47 123.04,208.41 122.21,207.91 121.39,208.41 121.62,207.47 120.88,206.85 121.84,206.77" fill="#f4a6a6"/>
<polygon points="124.40,205.66 124.77,206.55 125.74,206.63 125.00,207.25 125.23,208.19 124.40,207.69 123.58,208.19 123.80,207.25 123.07,206.63 124.03,206.55" fill="#f4a6a6"/>
<polygon points="126.50,205.04 126.87,205.93 127.83,206.01 127.10,206.63 127.32,207.57 126.50,207.07 125.68,207.57 125.90,206.63 125.17,206.01 126.13,205.93" fill="#f4a6a6"/>
<polygon points="128.56,204.27 128.93,205.16 129.89,205.23 129.16,205.86 129.38,206.80 128.56,206.30 127.74,206.80 127.96,205.86 127.23,205.23 128.19,205.16" fill="#f4a6a6"/>
<polygon points="130.55,203.33 130.92,204.22 131.88,204.29 131.15,204.92 131.37,205.86 130.55,205.36 129.72,205.86 129.95,204.92 129.21,204.29 130.18,204.22" fill="#f4a6a6"/>
<polygon points="132.51,202.34 132.88,203.23 133.85,203.31 133.11,203.94 133.34,204.88 132.51,204.37 131.69,204.88 131.92,203.94 131.18,203.31 132.14,203.23" fill="#f4a6a6"/>
<polygon points="134.38,201.18 134.75,202.07 135.71,202.15 134.98,202.78 135.20,203.71 134.38,203.21 133.56,203.71 133.78,202.78 133.05,202.15 134.01,202.07" fill="#f4a6a6"/>
<polygon points="140.90,194.40 141.35,195.48 142.52,195.57 141.63,196.34 141.90,197.48 140.90,196.86 139.90,197.48 140.17,196.34 139.28,195.57 140.45,195.48" fill="#f4a6a6"/>
<polygon points="145.00,191.80 145.45,192.88 146.62,192.97 145.73,193.74 146.00,194.88 145.00,194.26 144.00,194.88 144.27,193.74 143.38,192.97 144.55,192.88" fill="#f4a6a6"/>
<polygon points="149.60,189.30 150.05,190.38 151.22,190.47 150.33,191.24 150.60,192.38 149.60,191.76 148.60,192.38 148.87,191.24 147.98,190.47 149.15,190.38" fill="#f4a6a6"/>
<polygon points="156.20,184.20 156.65,185.28 157.82,185.37 156.93,186.14 157.20,187.28 156.20,186.66 155.20,187.28 155.47,186.14 154.58,185.37 155.75,185.28" fill="#f4a6a6"/>
<polygon points="161.50,180.80 161.95,181.88 163.12,181.97 162.23,182.74 162.50,183.88 161.50,183.26 160.50,183.88 160.77,182.74 159.88,181.97 161.05,181.88" fill="#f4a6a6"/>
<polygon points="167.80,177.50 168.25,178.58 169.42,178.67 168.53,179.44 168.80,180.58 167.80,179.96 166.80,180.58 167.07,179.44 166.18,178.67 167.35,178.58" fill="#f4a6a6"/>
<polygon points="173.70,174.00 174.15,175.08 175.32,175.17 174.43,175.94 174.70,177.08 173.70,176.46 172.70,177.08 172.97,175.94 172.08,175.17 173.25,175.08" fill="#f4a6a6"/>
<polygon points="158.80,199.20 159.25,200.28 160.42,200.37 159.53,201.14 159.80,202.28 158.80,201.66 157.80,202.28 158.07,201.14 157.18,200.37 158.35,200.28" fill="#8ccff5"/>
<polygon points="162.60,195.60 163.05,196.68 164.22,196.77 163.33,197.54 163.60,198.68 162.60,198.06 161.60,198.68 161.87,197.54 160.98,196.77 162.15,196.68" fill="#8ccff5"/>
<polygon points="166.30,190.90 166.75,191.98 167.92,192.07 167.03,192.84 167.30,193.98 166.30,193.36 165.30,193.98 165.57,192.84 164.68,192.07 165.85,191.98" fill="#8ccff5"/>
<polygon points="172.60,183.00 173.05,184.08 174.22,184.17 173.33,184.94 173.60,186.08 172.60,185.46 171.60,186.08 171.87,184.94 170.98,184.17 172.15,184.08" fill="#8ccff5"/>
<polygon points="180.30,171.10 180.75,172.18 181.92,172.27 181.03,173.04 181.30,174.18 180.30,173.56 179.30,174.18 179.57,173.04 178.68,172.27 179.85,172.18" fill="#8ccff5"/>
<polygon points="185.90,164.40 186.35,165.48 187.52,165.57 186.63,166.34 186.90,167.48 185.90,166.86 184.90,167.48 185.17,166.34 184.28,165.57 185.45,165.48" fill="#8ccff5"/>
<polygon points="108.80,215.90 109.22,216.92 110.32,217.01 109.48,217.72 109.74,218.79 108.80,218.22 107.86,218.79 108.12,217.72 107.28,217.01 108.38,216.92" fill="#ef3030"/>
<polygon points="109.17,214.04 109.60,215.05 110.69,215.14 109.86,215.86 110.11,216.93 109.17,216.36 108.23,216.93 108.49,215.86 107.65,215.14 108.75,215.05" fill="#ef3030"/>
<polygon points="109.64,212.22 110.06,213.23 111.16,213.32 110.32,214.04 110.58,215.11 109.64,214.54 108.70,215.11 108.95,214.04 108.12,213.32 109.22,213.23" fill="#ef3030"/>
<polygon points="110.78,210.70 111.20,211.71 112.30,211.80 111.46,212.52 111.72,213.59 110.78,213.02 109.84,213.59 110.09,212.52 109.26,211.80 110.36,211.71" fill="#ef3030"/>
<polygon points="112.22,209.48 112.65,210.50 113.75,210.59 112.91,211.30 113.17,212.38 112.22,211.80 111.28,212.38 111.54,211.30 110.70,210.59 111.80,210.50" fill="#ef3030"/>
<polygon points="113.88,208.61 114.31,209.62 115.40,209.71 114.57,210.43 114.82,211.50 113.88,210.93 112.94,211.50 113.20,210.43 112.36,209.71 113.46,209.62" fill="#ef3030"/>
<polygon points="115.69,208.00 116.11,209.02 117.21,209.11 116.37,209.83 116.63,210.90 115.69,210.32 114.74,210.90 115.00,209.83 114.16,209.11 115.26,209.02" fill="#ef3030"/>
<polygon points="117.56,207.71 117.98,208.72 119.08,208.81 118.24,209.53 118.50,210.60 117.56,210.03 116.62,210.60 116.87,209.53 116.03,208.81 117.13,208.72" fill="#ef3030"/>
<polygon points="119.44,207.47 119.86,208.49 120.96,208.58 120.13,209.29 120.38,210.36 119.44,209.79 118.50,210.36 118.76,209.29 117.92,208.58 119.02,208.49" fill="#ef3030"/>
<polygon points="121.33,207.27 121.75,208.28 122.85,208.37 122.02,209.09 122.27,210.16 121.33,209.59 120.39,210.16 120.65,209.09 119.81,208.37 120.91,208.28" fill="#ef3030"/>
<polygon points="123.22,207.08 123.64,208.10 124.74,208.18 123.91,208.90 124.16,209.97 123.22,209.40 122.28,209.97 122.54,208.90 121.70,208.18 122.80,208.10" fill="#ef3030"/>
<polygon points="125.11,206.88 125.53,207.90 126.63,207.98 125.79,208.70 126.05,209.77 125.11,209.20 124.17,209.77 124.43,208.70 123.59,207.98 124.69,207.90" fill="#ef3030"/>
<polygon points="126.97,206.51 127.40,207.52 128.49,207.61 127.66,208.33 127.91,209.40 126.97,208.83 126.03,209.40 126.29,208.33 125.45,207.61 126.55,207.52" fill="#ef3030"/>
<polygon points="128.84,206.13 129.26,207.15 130.36,207.24 129.52,207.96 129.78,209.03 128.84,208.45 127.90,209.03 128.15,207.96 127.31,207.24 128.41,207.15" fill="#ef3030"/>
<polygon points="130.57,205.47 130.99,206.49 132.09,206.58 131.26,207.29 131.51,208.37 130.57,207.79 129.63,208.37 129.89,207.29 129.05,206.58 130.15,206.49" fill="#ef3030"/>
<polygon points="133.70,199.30 134.18,200.44 135.41,200.54 134.47,201.35 134.76,202.56 133.70,201.91 132.64,202.56 132.93,201.35 131.99,200.54 133.22,200.44" fill="#ef3030"/>
<polygon points="138.00,195.00 138.48,196.14 139.71,196.24 138.77,197.05 139.06,198.26 138.00,197.61 136.94,198.26 137.23,197.05 136.29,196.24 137.52,196.14" fill="#ef3030"/>
<polygon points="146.00,190.20 146.48,191.34 147.71,191.44 146.77,192.25 147.06,193.46 146.00,192.81 144.94,193.46 145.23,192.25 144.29,191.44 145.52,191.34" fill="#ef3030"/>
<polygon points="159.50,185.50 159.98,186.64 161.21,186.74 160.27,187.55 160.56,188.76 159.50,188.11 158.44,188.76 158.73,187.55 157.79,186.74 159.02,186.64" fill="#ef3030"/>
<polygon points="176.40,182.70 176.88,183.84 178.11,183.94 177.17,184.75 177.46,185.96 176.40,185.31 175.34,185.96 175.63,184.75 174.69,183.94 175.92,183.84" fill="#ef3030"/>
<polygon points="194.50,183.20 194.98,184.34 196.21,184.44 195.27,185.25 195.56,186.46 194.50,185.81 193.44,186.46 193.73,185.25 192.79,184.44 194.02,184.34" fill="#ef3030"/>
<polygon points="209.40,187.00 209.88,188.14 211.11,188.24 210.17,189.05 210.46,190.26 209.40,189.61 208.34,190.26 208.63,189.05 207.69,188.24 208.92,188.14" fill="#ef3030"/>
<polygon points="219.10,190.50 219.58,191.64 220.81,191.74 219.87,192.55 220.16,193.76 219.10,193.11 218.04,193.76 218.33,192.55 217.39,191.74 218.62,191.64" fill="#ef3030"/>
<polygon points="226.20,192.60 226.68,193.74 227.91,193.84 226.97,194.65 227.26,195.86 226.20,195.21 225.14,195.86 225.43,194.65 224.49,193.84 225.72,193.74" fill="#ef3030"/>
<polygon points="232.60,193.60 233.08,194.74 234.31,194.84 233.37,195.65 233.66,196.86 232.60,196.21 231.54,196.86 231.83,195.65 230.89,194.84 232.12,194.74" fill="#ef3030"/>
<polygon points="238.90,193.60 239.38,194.74 240.61,194.84 239.67,195.65 239.96,196.86 238.90,196.21 237.84,196.86 238.13,195.65 237.19,194.84 238.42,194.74" fill="#ef3030"/>
<polygon points="246.10,192.30 246.58,193.44 247.81,193.54 246.87,194.35 247.16,195.56 246.10,194.91 245.04,195.56 245.33,194.35 244.39,193.54 245.62,193.44" fill="#ef3030"/>
<polygon points="253.40,190.50 253.88,191.64 255.11,191.74 254.17,192.55 254.46,193.76 253.40,193.11 252.34,193.76 252.63,192.55 251.69,191.74 252.92,191.64" fill="#ef3030"/>
<polygon points="263.10,187.20 263.58,188.34 264.81,188.44 263.87,189.25 264.16,190.46 263.10,189.81 262.04,190.46 262.33,189.25 261.39,188.44 262.62,188.34" fill="#ef3030"/>
<polygon points="273.30,182.40 273.78,183.54 275.01,183.64 274.07,184.45 274.36,185.66 273.30,185.01 272.24,185.66 272.53,184.45 271.59,183.64 272.82,183.54" fill="#ef3030"/>
<polygon points="287.30,176.50 287.78,177.64 289.01,177.74 288.07,178.55 288.36,179.76 287.30,179.11 286.24,179.76 286.53,178.55 285.59,177.74 286.82,177.64" fill="#ef3030"/>
<polygon points="295.40,173.00 295.88,174.14 297.11,174.24 296.17,175.05 296.46,176.26 295.40,175.61 294.34,176.26 294.63,175.05 293.69,174.24 294.92,174.14" fill="#ef3030"/>
<polygon points="132.10,217.85 132.56,218.96 133.76,219.06 132.85,219.84 133.13,221.02 132.10,220.39 131.07,221.02 131.35,219.84 130.44,219.06 131.64,218.96" fill="#0a14c8"/>
<polygon points="133.10,214.75 133.56,215.86 134.76,215.96 133.85,216.74 134.13,217.92 133.10,217.29 132.07,217.92 132.35,216.74 131.44,215.96 132.64,215.86" fill="#0a14c8"/>
<polygon points="134.00,212.75 134.46,213.86 135.66,213.96 134.75,214.74 135.03,215.92 134.00,215.29 132.97,215.92 133.25,214.74 132.34,213.96 133.54,213.86" fill="#0a14c8"/>
<polygon points="135.00,210.25 135.46,211.36 136.66,211.46 135.75,212.24 136.03,213.42 135.00,212.79 133.97,213.42 134.25,212.24 133.34,211.46 134.54,211.36" fill="#0a14c8"/>
<polygon points="136.00,208.95 136.46,210.06 137.66,210.16 136.75,210.94 137.03,212.12 136.00,211.49 134.97,212.12 135.25,210.94 134.34,210.16 135.54,210.06" fill="#0a14c8"/>
<polygon points="137.10,208.35 137.56,209.46 138.76,209.56 137.85,210.34 138.13,211.52 137.10,210.89 136.07,211.52 136.35,210.34 135.44,209.56 136.64,209.46" fill="#0a14c8"/>
<polygon points="138.40,208.05 138.86,209.16 140.06,209.26 139.15,210.04 139.43,211.22 138.40,210.59 137.37,211.22 137.65,210.04 136.74,209.26 137.94,209.16" fill="#0a14c8"/>
<polygon points="139.80,207.65 140.26,208.76 141.46,208.86 140.55,209.64 140.83,210.82 139.80,210.19 138.77,210.82 139.05,209.64 138.14,208.86 139.34,208.76" fill="#0a14c8"/>
<polygon points="141.40,205.85 141.86,206.96 143.06,207.06 142.15,207.84 142.43,209.02 141.40,208.39 140.37,209.02 140.65,207.84 139.74,207.06 140.94,206.96" fill="#0a14c8"/>
<polygon points="143.00,205.15 143.46,206.26 144.66,206.36 143.75,207.14 144.03,208.32 143.00,207.69 141.97,208.32 142.25,207.14 141.34,206.36 142.54,206.26" fill="#0a14c8"/>
<polygon points="144.50,204.85 144.96,205.96 146.16,206.06 145.25,206.84 145.53,208.02 144.50,207.39 143.47,208.02 143.75,206.84 142.84,206.06 144.04,205.96" fill="#0a14c8"/>
<polygon points="146.10,204.55 146.56,205.66 147.76,205.76 146.85,206.54 147.13,207.72 146.10,207.09 145.07,207.72 145.35,206.54 144.44,205.76 145.64,205.66" fill="#0a14c8"/>
<polygon points="148.00,203.85 148.46,204.96 149.66,205.06 148.75,205.84 149.03,207.02 148.00,206.39 146.97,207.02 147.25,205.84 146.34,205.06 147.54,204.96" fill="#0a14c8"/>
<polygon points="150.00,203.15 150.46,204.26 151.66,204.36 150.75,205.14 151.03,206.32 150.00,205.69 148.97,206.32 149.25,205.14 148.34,204.36 149.54,204.26" fill="#0a14c8"/>
<polygon points="152.20,202.90 152.73,204.17 154.10,204.28 153.06,205.18 153.38,206.52 152.20,205.80 151.02,206.52 151.34,205.18 150.30,204.28 151.67,204.17" fill="#0a14c8"/>
<polygon points="154.60,203.10 155.13,204.37 156.50,204.48 155.46,205.38 155.78,206.72 154.60,206.00 153.42,206.72 153.74,205.38 152.70,204.48 154.07,204.37" fill="#0a14c8"/>
<polygon points="157.10,203.20 157.63,204.47 159.00,204.58 157.96,205.48 158.28,206.82 157.10,206.10 155.92,206.82 156.24,205.48 155.20,204.58 156.57,204.47" fill="#0a14c8"/>
<polygon points="159.60,203.20 160.13,204.47 161.50,204.58 160.46,205.48 160.78,206.82 159.60,206.10 158.42,206.82 158.74,205.48 157.70,204.58 159.07,204.47" fill="#0a14c8"/>
<polygon points="162.00,203.10 162.53,204.37 163.90,204.48 162.86,205.38 163.18,206.72 162.00,206.00 160.82,206.72 161.14,205.38 160.10,204.48 161.47,204.37" fill="#0a14c8"/>
<polygon points="164.40,203.10 164.93,204.37 166.30,204.48 165.26,205.38 165.58,206.72 164.40,206.00 163.22,206.72 163.54,205.38 162.50,204.48 163.87,204.37" fill="#0a14c8"/>
<polygon points="167.00,203.20 167.53,204.47 168.90,204.58 167.86,205.48 168.18,206.82 167.00,206.10 165.82,206.82 166.14,205.48 165.10,204.58 166.47,204.47" fill="#0a14c8"/>
<polygon points="169.60,203.50 170.13,204.77 171.50,204.88 170.46,205.78 170.78,207.12 169.60,206.40 168.42,207.12 168.74,205.78 167.70,204.88 169.07,204.77" fill="#0a14c8"/>
<polygon points="172.20,203.90 172.73,205.17 174.10,205.28 173.06,206.18 173.38,207.52 172.20,206.80 171.02,207.52 171.34,206.18 170.30,205.28 171.67,205.17" fill="#0a14c8"/>
<polygon points="174.90,204.50 175.43,205.77 176.80,205.88 175.76,206.78 176.08,208.12 174.90,207.40 173.72,208.12 174.04,206.78 173.00,205.88 174.37,205.77" fill="#0a14c8"/>
<polygon points="177.50,205.20 178.03,206.47 179.40,206.58 178.36,207.48 178.68,208.82 177.50,208.10 176.32,208.82 176.64,207.48 175.60,206.58 176.97,206.47" fill="#0a14c8"/>
<polygon points="180.10,205.40 180.63,206.67 182.00,206.78 180.96,207.68 181.28,209.02 180.10,208.30 178.92,209.02 179.24,207.68 178.20,206.78 179.57,206.67" fill="#0a14c8"/>
<polygon points="182.70,205.00 183.23,206.27 184.60,206.38 183.56,207.28 183.88,208.62 182.70,207.90 181.52,208.62 181.84,207.28 180.80,206.38 182.17,206.27" fill="#0a14c8"/>
<polygon points="185.30,204.10 185.83,205.37 187.20,205.48 186.16,206.38 186.48,207.72 185.30,207.00 184.12,207.72 184.44,206.38 183.40,205.48 184.77,205.37" fill="#0a14c8"/>
<polygon points="187.60,202.40 188.13,203.67 189.50,203.78 188.46,204.68 188.78,206.02 187.60,205.30 186.42,206.02 186.74,204.68 185.70,203.78 187.07,203.67" fill="#0a14c8"/>
<polygon points="189.50,200.90 190.03,202.17 191.40,202.28 190.36,203.18 190.68,204.52 189.50,203.80 188.32,204.52 188.64,203.18 187.60,202.28 188.97,202.17" fill="#0a14c8"/>
<polygon points="191.90,198.50 192.43,199.77 193.80,199.88 192.76,200.78 193.08,202.12 191.90,201.40 190.72,202.12 191.04,200.78 190.00,199.88 191.37,199.77" fill="#0a14c8"/>
<polygon points="195.10,194.60 195.63,195.87 197.00,195.98 195.96,196.88 196.28,198.22 195.10,197.50 193.92,198.22 194.24,196.88 193.20,195.98 194.57,195.87" fill="#0a14c8"/>
<polygon points="198.30,188.40 198.83,189.67 200.20,189.78 199.16,190.68 199.48,192.02 198.30,191.30 197.12,192.02 197.44,190.68 196.40,189.78 197.77,189.67" fill="#0a14c8"/>
<polygon points="203.60,179.20 204.13,180.47 205.50,180.58 204.46,181.48 204.78,182.82 203.60,182.10 202.42,182.82 202.74,181.48 201.70,180.58 203.07,180.47" fill="#0a14c8"/>
<polygon points="208.90,164.30 209.43,165.57 210.80,165.68 209.76,166.58 210.08,167.92 208.90,167.20 207.72,167.92 208.04,166.58 207.00,165.68 208.37,165.57" fill="#0a14c8"/>
<line x1="72.5" y1="343.05" x2="72.5" y2="337.15000000000003" stroke="#262626" stroke-width="1.05"/>
<text x="72.50" y="359.60" font-size="12.5" text-anchor="middle" fill="#1a1a1a" >0.06</text>
<line x1="122.7" y1="343.05" x2="122.7" y2="337.15000000000003" stroke="#262626" stroke-width="1.05"/>
<text x="122.70" y="359.60" font-size="12.5" text-anchor="middle" fill="#1a1a1a" >0.08</text>
<line x1="172.9" y1="343.05" x2="172.9" y2="337.15000000000003" stroke="#262626" stroke-width="1.05"/>
<text x="172.90" y="359.60" font-size="12.5" text-anchor="middle" fill="#1a1a1a" >0.10</text>
<line x1="223.1" y1="343.05" x2="223.1" y2="337.15000000000003" stroke="#262626" stroke-width="1.05"/>
<text x="223.10" y="359.60" font-size="12.5" text-anchor="middle" fill="#1a1a1a" >0.12</text>
<line x1="273.3" y1="343.05" x2="273.3" y2="337.15000000000003" stroke="#262626" stroke-width="1.05"/>
<text x="273.30" y="359.60" font-size="12.5" text-anchor="middle" fill="#1a1a1a" >0.14</text>
<line x1="323.5" y1="343.05" x2="323.5" y2="337.15000000000003" stroke="#262626" stroke-width="1.05"/>
<text x="323.50" y="359.60" font-size="12.5" text-anchor="middle" fill="#1a1a1a" >0.16</text>
<line x1="373.7" y1="343.05" x2="373.7" y2="337.15000000000003" stroke="#262626" stroke-width="1.05"/>
<text x="373.70" y="359.60" font-size="12.5" text-anchor="middle" fill="#1a1a1a" >0.18</text>
<line x1="48.0" y1="284.6" x2="53.4" y2="284.6" stroke="#262626" stroke-width="1.05"/>
<text x="40.70" y="288.80" font-size="12.6" text-anchor="end" fill="#1a1a1a" >0.03</text>
<line x1="48.0" y1="301.2" x2="53.4" y2="301.2" stroke="#262626" stroke-width="1.05"/>
<text x="40.70" y="305.40" font-size="12.6" text-anchor="end" fill="#1a1a1a" >0.02</text>
<line x1="48.0" y1="317.8" x2="53.4" y2="317.8" stroke="#262626" stroke-width="1.05"/>
<text x="40.70" y="322.00" font-size="12.6" text-anchor="end" fill="#1a1a1a" >0.01</text>
<line x1="48.0" y1="334.9" x2="53.4" y2="334.9" stroke="#262626" stroke-width="1.05"/>
<text x="40.70" y="339.10" font-size="12.6" text-anchor="end" fill="#1a1a1a" >0.00</text>
<line x1="48.4" y1="334.9" x2="372.7" y2="334.9" stroke="#22dd22" stroke-width="1.35"/>
<path d="M48.0 284.2 V343.05 H374.2" fill="none" stroke="#262626" stroke-width="1.35"/>
<text x="201.00" y="375.60" font-size="12.8" text-anchor="middle" fill="#1a1a1a" >Re (Z)/Ohm</text>
<text x="59.20" y="297.70" font-size="13.1" text-anchor="start" fill="#1a1a1a" >500 cycles</text>
<text x="12.80" y="271.20" font-size="12.7" text-anchor="start" fill="#1a1a1a" >(c)</text>
<text transform="translate(13.0 310.0) rotate(-90)" font-size="12.2" text-anchor="middle" fill="#1a1a1a">-Im(Z)/Ohm</text>
<polygon points="75.00,339.50 75.40,340.45 76.43,340.54 75.64,341.21 75.88,342.21 75.00,341.68 74.12,342.21 74.36,341.21 73.57,340.54 74.60,340.45" fill="#8ccff5"/>
<polygon points="75.82,337.03 76.22,337.99 77.25,338.07 76.46,338.74 76.70,339.75 75.82,339.21 74.94,339.75 75.18,338.74 74.40,338.07 75.43,337.99" fill="#8ccff5"/>
<polygon points="77.27,334.91 77.67,335.86 78.70,335.95 77.91,336.62 78.15,337.62 77.27,337.08 76.39,337.62 76.63,336.62 75.85,335.95 76.88,335.86" fill="#8ccff5"/>
<polygon points="79.19,333.20 79.59,334.16 80.62,334.24 79.84,334.91 80.08,335.92 79.19,335.38 78.31,335.92 78.55,334.91 77.77,334.24 78.80,334.16" fill="#8ccff5"/>
<polygon points="81.41,331.88 81.81,332.83 82.84,332.91 82.05,333.58 82.29,334.59 81.41,334.05 80.53,334.59 80.77,333.58 79.99,332.91 81.02,332.83" fill="#8ccff5"/>
<polygon points="83.90,331.13 84.30,332.08 85.33,332.17 84.54,332.84 84.78,333.84 83.90,333.30 83.02,333.84 83.26,332.84 82.48,332.17 83.51,332.08" fill="#8ccff5"/>
<polygon points="86.41,330.45 86.80,331.41 87.83,331.49 87.05,332.16 87.29,333.17 86.41,332.63 85.53,333.17 85.77,332.16 84.98,331.49 86.01,331.41" fill="#8ccff5"/>
<polygon points="88.99,330.15 89.39,331.11 90.42,331.19 89.63,331.86 89.87,332.86 88.99,332.33 88.11,332.86 88.35,331.86 87.56,331.19 88.59,331.11" fill="#8ccff5"/>
<polygon points="91.57,329.85 91.97,330.80 93.00,330.89 92.21,331.56 92.45,332.56 91.57,332.02 90.69,332.56 90.93,331.56 90.15,330.89 91.18,330.80" fill="#8ccff5"/>
<polygon points="94.17,329.88 94.56,330.84 95.59,330.92 94.81,331.59 95.05,332.59 94.17,332.06 93.29,332.59 93.53,331.59 92.74,330.92 93.77,330.84" fill="#8ccff5"/>
<polygon points="96.77,329.98 97.16,330.93 98.19,331.02 97.41,331.69 97.65,332.69 96.77,332.15 95.88,332.69 96.12,331.69 95.34,331.02 96.37,330.93" fill="#8ccff5"/>
<polygon points="99.36,330.08 99.76,331.03 100.79,331.11 100.01,331.78 100.25,332.79 99.36,332.25 98.48,332.79 98.72,331.78 97.94,331.11 98.97,331.03" fill="#8ccff5"/>
<polygon points="101.95,330.33 102.35,331.29 103.38,331.37 102.59,332.04 102.83,333.05 101.95,332.51 101.07,333.05 101.31,332.04 100.52,331.37 101.55,331.29" fill="#8ccff5"/>
<polygon points="104.53,330.64 104.93,331.60 105.96,331.68 105.17,332.35 105.41,333.36 104.53,332.82 103.65,333.36 103.89,332.35 103.11,331.68 104.13,331.60" fill="#8ccff5"/>
<polygon points="107.11,330.95 107.51,331.91 108.54,331.99 107.76,332.66 107.99,333.67 107.11,333.13 106.23,333.67 106.47,332.66 105.69,331.99 106.72,331.91" fill="#8ccff5"/>
<polygon points="109.58,330.24 109.97,331.20 111.00,331.28 110.22,331.95 110.46,332.96 109.58,332.42 108.70,332.96 108.94,331.95 108.15,331.28 109.18,331.20" fill="#8ccff5"/>
<polygon points="112.02,329.36 112.42,330.31 113.45,330.39 112.66,331.06 112.90,332.07 112.02,331.53 111.14,332.07 111.38,331.06 110.59,330.39 111.62,330.31" fill="#8ccff5"/>
<polygon points="114.28,328.11 114.67,329.06 115.70,329.14 114.92,329.82 115.16,330.82 114.28,330.28 113.39,330.82 113.63,329.82 112.85,329.14 113.88,329.06" fill="#8ccff5"/>
<polygon points="116.41,326.62 116.80,327.57 117.83,327.65 117.05,328.32 117.29,329.33 116.41,328.79 115.52,329.33 115.76,328.32 114.98,327.65 116.01,327.57" fill="#8ccff5"/>
<polygon points="74.00,336.60 74.37,337.49 75.33,337.57 74.60,338.19 74.82,339.13 74.00,338.63 73.18,339.13 73.40,338.19 72.67,337.57 73.63,337.49" fill="#fad5bd"/>
<polygon points="74.89,334.37 75.26,335.26 76.22,335.34 75.49,335.97 75.71,336.90 74.89,336.40 74.07,336.90 74.29,335.97 73.56,335.34 74.52,335.26" fill="#fad5bd"/>
<polygon points="76.49,332.61 76.86,333.50 77.82,333.58 77.09,334.20 77.31,335.14 76.49,334.64 75.67,335.14 75.89,334.20 75.16,333.58 76.12,333.50" fill="#fad5bd"/>
<polygon points="78.63,331.69 79.00,332.58 79.96,332.66 79.23,333.29 79.45,334.23 78.63,333.72 77.81,334.23 78.03,333.29 77.30,332.66 78.26,332.58" fill="#fad5bd"/>
<polygon points="80.96,331.11 81.33,332.00 82.29,332.08 81.56,332.71 81.78,333.64 80.96,333.14 80.13,333.64 80.36,332.71 79.63,332.08 80.59,332.00" fill="#fad5bd"/>
<polygon points="83.34,330.83 83.71,331.72 84.67,331.80 83.94,332.43 84.16,333.37 83.34,332.86 82.52,333.37 82.74,332.43 82.01,331.80 82.97,331.72" fill="#fad5bd"/>
<polygon points="85.73,330.56 86.10,331.45 87.06,331.53 86.32,332.15 86.55,333.09 85.73,332.59 84.90,333.09 85.13,332.15 84.39,331.53 85.35,331.45" fill="#fad5bd"/>
<polygon points="88.11,330.30 88.48,331.19 89.44,331.27 88.71,331.90 88.93,332.83 88.11,332.33 87.29,332.83 87.51,331.90 86.78,331.27 87.74,331.19" fill="#fad5bd"/>
<polygon points="90.51,330.34 90.88,331.23 91.84,331.30 91.11,331.93 91.33,332.87 90.51,332.37 89.69,332.87 89.91,331.93 89.18,331.30 90.14,331.23" fill="#fad5bd"/>
<polygon points="92.91,330.37 93.28,331.26 94.24,331.34 93.51,331.96 93.73,332.90 92.91,332.40 92.09,332.90 92.31,331.96 91.58,331.34 92.54,331.26" fill="#fad5bd"/>
<polygon points="95.31,330.43 95.68,331.32 96.64,331.40 95.91,332.03 96.13,332.96 95.31,332.46 94.49,332.96 94.71,332.03 93.98,331.40 94.94,331.32" fill="#fad5bd"/>
<polygon points="97.70,330.67 98.07,331.56 99.03,331.64 98.30,332.26 98.52,333.20 97.70,332.70 96.87,333.20 97.10,332.26 96.36,331.64 97.33,331.56" fill="#fad5bd"/>
<polygon points="100.08,330.91 100.45,331.80 101.42,331.88 100.68,332.50 100.91,333.44 100.08,332.94 99.26,333.44 99.49,332.50 98.75,331.88 99.71,331.80" fill="#fad5bd"/>
<polygon points="102.47,331.11 102.84,332.00 103.81,332.08 103.07,332.70 103.30,333.64 102.47,333.14 101.65,333.64 101.88,332.70 101.14,332.08 102.10,332.00" fill="#fad5bd"/>
<polygon points="104.87,331.15 105.24,332.04 106.21,332.12 105.47,332.74 105.70,333.68 104.87,333.18 104.05,333.68 104.28,332.74 103.54,332.12 104.50,332.04" fill="#fad5bd"/>
<polygon points="107.27,331.19 107.64,332.08 108.61,332.16 107.87,332.78 108.10,333.72 107.27,333.22 106.45,333.72 106.67,332.78 105.94,332.16 106.90,332.08" fill="#fad5bd"/>
<polygon points="109.64,330.87 110.01,331.76 110.97,331.84 110.24,332.47 110.46,333.40 109.64,332.90 108.82,333.40 109.04,332.47 108.31,331.84 109.27,331.76" fill="#fad5bd"/>
<polygon points="111.99,330.40 112.37,331.29 113.33,331.37 112.59,332.00 112.82,332.93 111.99,332.43 111.17,332.93 111.40,332.00 110.66,331.37 111.62,331.29" fill="#fad5bd"/>
<polygon points="114.22,329.56 114.59,330.45 115.55,330.53 114.82,331.16 115.04,332.09 114.22,331.59 113.39,332.09 113.62,331.16 112.89,330.53 113.85,330.45" fill="#fad5bd"/>
<polygon points="116.34,328.45 116.71,329.34 117.67,329.41 116.94,330.04 117.17,330.98 116.34,330.48 115.52,330.98 115.74,330.04 115.01,329.41 115.97,329.34" fill="#fad5bd"/>
<polygon points="120.20,320.40 120.65,321.48 121.82,321.57 120.93,322.34 121.20,323.48 120.20,322.87 119.20,323.48 119.47,322.34 118.58,321.57 119.75,321.48" fill="#fad5bd"/>
<polygon points="129.10,314.90 129.55,315.98 130.72,316.07 129.83,316.84 130.10,317.98 129.10,317.37 128.10,317.98 128.37,316.84 127.48,316.07 128.65,315.98" fill="#fad5bd"/>
<polygon points="134.50,309.90 134.95,310.98 136.12,311.07 135.23,311.84 135.50,312.98 134.50,312.37 133.50,312.98 133.77,311.84 132.88,311.07 134.05,310.98" fill="#fad5bd"/>
<polygon points="142.00,302.40 142.45,303.48 143.62,303.57 142.73,304.34 143.00,305.48 142.00,304.87 141.00,305.48 141.27,304.34 140.38,303.57 141.55,303.48" fill="#fad5bd"/>
<polygon points="152.50,292.20 152.95,293.28 154.12,293.37 153.23,294.14 153.50,295.28 152.50,294.66 151.50,295.28 151.77,294.14 150.88,293.37 152.05,293.28" fill="#fad5bd"/>
<polygon points="73.00,337.50 73.40,338.45 74.43,338.54 73.64,339.21 73.88,340.21 73.00,339.68 72.12,340.21 72.36,339.21 71.57,338.54 72.60,338.45" fill="#f7acac"/>
<polygon points="73.70,335.41 74.09,336.37 75.12,336.45 74.34,337.12 74.58,338.13 73.70,337.59 72.81,338.13 73.05,337.12 72.27,336.45 73.30,336.37" fill="#f7acac"/>
<polygon points="74.74,333.51 75.14,334.46 76.17,334.55 75.38,335.22 75.62,336.22 74.74,335.68 73.86,336.22 74.10,335.22 73.32,334.55 74.35,334.46" fill="#f7acac"/>
<polygon points="76.37,332.15 76.77,333.11 77.80,333.19 77.01,333.86 77.25,334.87 76.37,334.33 75.49,334.87 75.73,333.86 74.94,333.19 75.97,333.11" fill="#f7acac"/>
<polygon points="78.44,331.44 78.84,332.39 79.87,332.47 79.08,333.15 79.32,334.15 78.44,333.61 77.56,334.15 77.80,333.15 77.01,332.47 78.04,332.39" fill="#f7acac"/>
<polygon points="80.62,331.13 81.02,332.09 82.05,332.17 81.26,332.84 81.50,333.85 80.62,333.31 79.74,333.85 79.98,332.84 79.19,332.17 80.22,332.09" fill="#f7acac"/>
<polygon points="82.80,330.83 83.20,331.78 84.22,331.86 83.44,332.54 83.68,333.54 82.80,333.00 81.92,333.54 82.16,332.54 81.37,331.86 82.40,331.78" fill="#f7acac"/>
<polygon points="84.99,330.71 85.39,331.67 86.42,331.75 85.64,332.42 85.88,333.43 84.99,332.89 84.11,333.43 84.35,332.42 83.57,331.75 84.60,331.67" fill="#f7acac"/>
<polygon points="87.19,330.62 87.59,331.57 88.62,331.66 87.83,332.33 88.07,333.33 87.19,332.80 86.31,333.33 86.55,332.33 85.77,331.66 86.80,331.57" fill="#f7acac"/>
<polygon points="89.39,330.53 89.79,331.48 90.82,331.56 90.03,332.23 90.27,333.24 89.39,332.70 88.51,333.24 88.75,332.23 87.96,331.56 88.99,331.48" fill="#f7acac"/>
<polygon points="91.59,330.58 91.98,331.53 93.01,331.62 92.23,332.29 92.47,333.29 91.59,332.75 90.71,333.29 90.95,332.29 90.16,331.62 91.19,331.53" fill="#f7acac"/>
<polygon points="93.79,330.69 94.18,331.64 95.21,331.73 94.43,332.40 94.67,333.40 93.79,332.86 92.90,333.40 93.14,332.40 92.36,331.73 93.39,331.64" fill="#f7acac"/>
<polygon points="95.98,330.80 96.38,331.75 97.41,331.84 96.62,332.51 96.86,333.51 95.98,332.97 95.10,333.51 95.34,332.51 94.56,331.84 95.59,331.75" fill="#f7acac"/>
<polygon points="98.17,331.05 98.56,332.01 99.59,332.09 98.81,332.76 99.05,333.77 98.17,333.23 97.29,333.77 97.53,332.76 96.74,332.09 97.77,332.01" fill="#f7acac"/>
<polygon points="100.35,331.31 100.75,332.26 101.78,332.34 100.99,333.02 101.23,334.02 100.35,333.48 99.47,334.02 99.71,333.02 98.93,332.34 99.96,332.26" fill="#f7acac"/>
<polygon points="102.54,331.53 102.94,332.49 103.97,332.57 103.18,333.24 103.42,334.25 102.54,333.71 101.66,334.25 101.90,333.24 101.11,332.57 102.14,332.49" fill="#f7acac"/>
<polygon points="104.74,331.66 105.13,332.62 106.16,332.70 105.38,333.37 105.62,334.38 104.74,333.84 103.86,334.38 104.09,333.37 103.31,332.70 104.34,332.62" fill="#f7acac"/>
<polygon points="106.93,331.80 107.33,332.75 108.36,332.83 107.57,333.50 107.81,334.51 106.93,333.97 106.05,334.51 106.29,333.50 105.51,332.83 106.54,332.75" fill="#f7acac"/>
<polygon points="109.09,331.38 109.49,332.34 110.52,332.42 109.73,333.09 109.97,334.10 109.09,333.56 108.21,334.10 108.45,333.09 107.66,332.42 108.69,332.34" fill="#f7acac"/>
<polygon points="111.24,330.91 111.63,331.86 112.66,331.95 111.88,332.62 112.12,333.62 111.24,333.09 110.36,333.62 110.60,332.62 109.81,331.95 110.84,331.86" fill="#f7acac"/>
<polygon points="113.30,330.14 113.69,331.09 114.72,331.17 113.94,331.85 114.18,332.85 113.30,332.31 112.42,332.85 112.66,331.85 111.87,331.17 112.90,331.09" fill="#f7acac"/>
<polygon points="115.36,329.37 115.75,330.32 116.78,330.40 116.00,331.07 116.24,332.08 115.36,331.54 114.48,332.08 114.72,331.07 113.93,330.40 114.96,330.32" fill="#f7acac"/>
<polygon points="117.42,328.59 117.81,329.55 118.84,329.63 118.06,330.30 118.30,331.31 117.42,330.77 116.54,331.31 116.78,330.30 115.99,329.63 117.02,329.55" fill="#f7acac"/>
<polygon points="119.43,327.73 119.83,328.68 120.86,328.77 120.07,329.44 120.31,330.44 119.43,329.90 118.55,330.44 118.79,329.44 118.01,328.77 119.04,328.68" fill="#f7acac"/>
<polygon points="121.30,326.56 121.69,327.52 122.72,327.60 121.94,328.27 122.18,329.28 121.30,328.74 120.42,329.28 120.66,328.27 119.87,327.60 120.90,327.52" fill="#f7acac"/>
<polygon points="123.16,325.40 123.56,326.35 124.59,326.43 123.81,327.11 124.04,328.11 123.16,327.57 122.28,328.11 122.52,327.11 121.74,326.43 122.77,326.35" fill="#f7acac"/>
<polygon points="125.03,324.23 125.43,325.19 126.46,325.27 125.67,325.94 125.91,326.95 125.03,326.41 124.15,326.95 124.39,325.94 123.60,325.27 124.63,325.19" fill="#f7acac"/>
<polygon points="126.89,323.07 127.29,324.02 128.32,324.10 127.54,324.77 127.78,325.78 126.89,325.24 126.01,325.78 126.25,324.77 125.47,324.10 126.50,324.02" fill="#f7acac"/>
<polygon points="135.20,316.60 135.68,317.74 136.91,317.84 135.97,318.65 136.26,319.86 135.20,319.21 134.14,319.86 134.43,318.65 133.49,317.84 134.72,317.74" fill="#f7acac"/>
<polygon points="140.70,312.50 141.18,313.64 142.41,313.74 141.47,314.55 141.76,315.76 140.70,315.11 139.64,315.76 139.93,314.55 138.99,313.74 140.22,313.64" fill="#f7acac"/>
<polygon points="148.90,307.70 149.38,308.84 150.61,308.94 149.67,309.75 149.96,310.96 148.90,310.31 147.84,310.96 148.13,309.75 147.19,308.94 148.42,308.84" fill="#f7acac"/>
<polygon points="158.50,300.40 158.98,301.54 160.21,301.64 159.27,302.45 159.56,303.66 158.50,303.01 157.44,303.66 157.73,302.45 156.79,301.64 158.02,301.54" fill="#f7acac"/>
<polygon points="72.50,338.50 72.90,339.45 73.93,339.54 73.14,340.21 73.38,341.21 72.50,340.68 71.62,341.21 71.86,340.21 71.07,339.54 72.10,339.45" fill="#f4a6a6"/>
<polygon points="72.93,336.34 73.33,337.30 74.36,337.38 73.57,338.05 73.81,339.06 72.93,338.52 72.05,339.06 72.29,338.05 71.50,337.38 72.53,337.30" fill="#f4a6a6"/>
<polygon points="73.69,334.28 74.08,335.24 75.11,335.32 74.33,335.99 74.57,337.00 73.69,336.46 72.81,337.00 73.05,335.99 72.26,335.32 73.29,335.24" fill="#f4a6a6"/>
<polygon points="74.96,332.54 75.36,333.49 76.39,333.58 75.60,334.25 75.84,335.25 74.96,334.71 74.08,335.25 74.32,334.25 73.53,333.58 74.56,333.49" fill="#f4a6a6"/>
<polygon points="76.65,331.17 77.05,332.13 78.08,332.21 77.29,332.88 77.53,333.89 76.65,333.35 75.77,333.89 76.01,332.88 75.23,332.21 76.26,332.13" fill="#f4a6a6"/>
<polygon points="78.67,330.33 79.07,331.29 80.10,331.37 79.31,332.04 79.55,333.05 78.67,332.51 77.79,333.05 78.03,332.04 77.25,331.37 78.28,331.29" fill="#f4a6a6"/>
<polygon points="80.81,329.80 81.20,330.75 82.23,330.83 81.45,331.51 81.69,332.51 80.81,331.97 79.93,332.51 80.17,331.51 79.38,330.83 80.41,330.75" fill="#f4a6a6"/>
<polygon points="82.97,329.42 83.36,330.37 84.39,330.46 83.61,331.13 83.85,332.13 82.97,331.59 82.09,332.13 82.32,331.13 81.54,330.46 82.57,330.37" fill="#f4a6a6"/>
<polygon points="85.16,329.24 85.56,330.19 86.59,330.27 85.80,330.95 86.04,331.95 85.16,331.41 84.28,331.95 84.52,330.95 83.73,330.27 84.76,330.19" fill="#f4a6a6"/>
<polygon points="87.35,329.05 87.75,330.01 88.78,330.09 87.99,330.76 88.23,331.77 87.35,331.23 86.47,331.77 86.71,330.76 85.93,330.09 86.96,330.01" fill="#f4a6a6"/>
<polygon points="89.55,329.00 89.95,329.95 90.98,330.04 90.19,330.71 90.43,331.71 89.55,331.18 88.67,331.71 88.91,330.71 88.12,330.04 89.15,329.95" fill="#f4a6a6"/>
<polygon points="91.75,329.00 92.15,329.95 93.18,330.04 92.39,330.71 92.63,331.71 91.75,331.18 90.87,331.71 91.11,330.71 90.32,330.04 91.35,329.95" fill="#f4a6a6"/>
<polygon points="93.95,329.00 94.35,329.95 95.38,330.04 94.59,330.71 94.83,331.71 93.95,331.18 93.07,331.71 93.31,330.71 92.52,330.04 93.55,329.95" fill="#f4a6a6"/>
<polygon points="96.13,329.28 96.53,330.24 97.56,330.32 96.77,330.99 97.01,332.00 96.13,331.46 95.25,332.00 95.49,330.99 94.70,330.32 95.73,330.24" fill="#f4a6a6"/>
<polygon points="98.31,329.57 98.71,330.53 99.74,330.61 98.95,331.28 99.19,332.29 98.31,331.75 97.43,332.29 97.67,331.28 96.88,330.61 97.91,330.53" fill="#f4a6a6"/>
<polygon points="100.49,329.86 100.89,330.82 101.92,330.90 101.13,331.57 101.37,332.58 100.49,332.04 99.61,332.58 99.85,331.57 99.07,330.90 100.10,330.82" fill="#f4a6a6"/>
<polygon points="102.68,330.13 103.07,331.09 104.10,331.17 103.32,331.84 103.56,332.85 102.68,332.31 101.79,332.85 102.03,331.84 101.25,331.17 102.28,331.09" fill="#f4a6a6"/>
<polygon points="104.86,330.24 105.26,331.19 106.29,331.27 105.50,331.94 105.74,332.95 104.86,332.41 103.98,332.95 104.22,331.94 103.44,331.27 104.47,331.19" fill="#f4a6a6"/>
<polygon points="107.06,330.07 107.45,331.02 108.48,331.11 107.70,331.78 107.94,332.78 107.06,332.25 106.18,332.78 106.41,331.78 105.63,331.11 106.66,331.02" fill="#f4a6a6"/>
<polygon points="109.22,329.70 109.61,330.65 110.64,330.73 109.86,331.40 110.10,332.41 109.22,331.87 108.33,332.41 108.57,331.40 107.79,330.73 108.82,330.65" fill="#f4a6a6"/>
<polygon points="111.35,329.16 111.75,330.12 112.78,330.20 111.99,330.87 112.23,331.88 111.35,331.34 110.47,331.88 110.71,330.87 109.92,330.20 110.95,330.12" fill="#f4a6a6"/>
<polygon points="113.49,328.63 113.88,329.58 114.91,329.67 114.13,330.34 114.37,331.34 113.49,330.80 112.60,331.34 112.84,330.34 112.06,329.67 113.09,329.58" fill="#f4a6a6"/>
<polygon points="115.62,328.10 116.02,329.05 117.05,329.13 116.26,329.80 116.50,330.81 115.62,330.27 114.74,330.81 114.98,329.80 114.19,329.13 115.22,329.05" fill="#f4a6a6"/>
<polygon points="117.62,327.19 118.01,328.15 119.04,328.23 118.26,328.90 118.50,329.91 117.62,329.37 116.74,329.91 116.98,328.90 116.19,328.23 117.22,328.15" fill="#f4a6a6"/>
<polygon points="119.50,326.08 119.90,327.04 120.93,327.12 120.14,327.79 120.38,328.80 119.50,328.26 118.62,328.80 118.86,327.79 118.08,327.12 119.11,327.04" fill="#f4a6a6"/>
<polygon points="121.19,324.67 121.59,325.63 122.62,325.71 121.83,326.38 122.07,327.39 121.19,326.85 120.31,327.39 120.55,326.38 119.77,325.71 120.80,325.63" fill="#f4a6a6"/>
<polygon points="125.00,319.70 125.48,320.84 126.71,320.94 125.77,321.75 126.06,322.96 125.00,322.31 123.94,322.96 124.23,321.75 123.29,320.94 124.52,320.84" fill="#f4a6a6"/>
<polygon points="130.20,316.60 130.68,317.74 131.91,317.84 130.97,318.65 131.26,319.86 130.20,319.21 129.14,319.86 129.43,318.65 128.49,317.84 129.72,317.74" fill="#f4a6a6"/>
<polygon points="135.90,311.80 136.38,312.94 137.61,313.04 136.67,313.85 136.96,315.06 135.90,314.41 134.84,315.06 135.13,313.85 134.19,313.04 135.42,312.94" fill="#f4a6a6"/>
<polygon points="143.40,306.70 143.88,307.84 145.11,307.94 144.17,308.75 144.46,309.96 143.40,309.31 142.34,309.96 142.63,308.75 141.69,307.94 142.92,307.84" fill="#f4a6a6"/>
<polygon points="154.30,299.30 154.78,300.44 156.01,300.54 155.07,301.35 155.36,302.56 154.30,301.91 153.24,302.56 153.53,301.35 152.59,300.54 153.82,300.44" fill="#f4a6a6"/>
<polygon points="164.60,297.00 165.08,298.14 166.31,298.24 165.37,299.05 165.66,300.26 164.60,299.61 163.54,300.26 163.83,299.05 162.89,298.24 164.12,298.14" fill="#f4a6a6"/>
<polygon points="123.00,318.90 123.48,320.04 124.71,320.14 123.77,320.95 124.06,322.16 123.00,321.51 121.94,322.16 122.23,320.95 121.29,320.14 122.52,320.04" fill="#8ccff5"/>
<polygon points="127.00,315.70 127.48,316.84 128.71,316.94 127.77,317.75 128.06,318.96 127.00,318.31 125.94,318.96 126.23,317.75 125.29,316.94 126.52,316.84" fill="#8ccff5"/>
<polygon points="131.10,310.50 131.58,311.64 132.81,311.74 131.87,312.55 132.16,313.76 131.10,313.11 130.04,313.76 130.33,312.55 129.39,311.74 130.62,311.64" fill="#8ccff5"/>
<polygon points="138.00,302.00 138.48,303.14 139.71,303.24 138.77,304.05 139.06,305.26 138.00,304.61 136.94,305.26 137.23,304.05 136.29,303.24 137.52,303.14" fill="#8ccff5"/>
<polygon points="144.30,289.90 144.78,291.04 146.01,291.14 145.07,291.95 145.36,293.16 144.30,292.51 143.24,293.16 143.53,291.95 142.59,291.14 143.82,291.04" fill="#8ccff5"/>
<polygon points="77.50,338.80 78.00,340.01 79.31,340.11 78.31,340.96 78.62,342.24 77.50,341.56 76.38,342.24 76.69,340.96 75.69,340.11 77.00,340.01" fill="#0a14c8"/>
<polygon points="78.32,336.77 78.83,337.97 80.13,338.08 79.14,338.93 79.44,340.20 78.32,339.52 77.21,340.20 77.51,338.93 76.52,338.08 77.82,337.97" fill="#0a14c8"/>
<polygon points="79.09,334.71 79.59,335.92 80.89,336.03 79.90,336.88 80.20,338.15 79.09,337.47 77.97,338.15 78.27,336.88 77.28,336.03 78.58,335.92" fill="#0a14c8"/>
<polygon points="80.36,332.94 80.86,334.15 82.17,334.25 81.17,335.10 81.48,336.38 80.36,335.70 79.24,336.38 79.55,335.10 78.55,334.25 79.86,334.15" fill="#0a14c8"/>
<polygon points="81.98,331.46 82.48,332.66 83.78,332.77 82.79,333.62 83.09,334.89 81.98,334.21 80.86,334.89 81.16,333.62 80.17,332.77 81.48,332.66" fill="#0a14c8"/>
<polygon points="83.74,330.13 84.24,331.34 85.54,331.45 84.55,332.30 84.85,333.57 83.74,332.89 82.62,333.57 82.92,332.30 81.93,331.45 83.23,331.34" fill="#0a14c8"/>
<polygon points="85.51,328.83 86.01,330.03 87.31,330.14 86.32,330.99 86.62,332.26 85.51,331.58 84.39,332.26 84.69,330.99 83.70,330.14 85.00,330.03" fill="#0a14c8"/>
<polygon points="87.31,327.57 87.82,328.78 89.12,328.89 88.13,329.74 88.43,331.01 87.31,330.33 86.20,331.01 86.50,329.74 85.51,328.89 86.81,328.78" fill="#0a14c8"/>
<polygon points="89.17,326.40 89.67,327.61 90.98,327.71 89.98,328.56 90.29,329.83 89.17,329.15 88.06,329.83 88.36,328.56 87.36,327.71 88.67,327.61" fill="#0a14c8"/>
<polygon points="91.13,325.41 91.63,326.62 92.94,326.72 91.95,327.57 92.25,328.85 91.13,328.16 90.02,328.85 90.32,327.57 89.33,326.72 90.63,326.62" fill="#0a14c8"/>
<polygon points="71.60,340.40 72.02,341.42 73.12,341.51 72.28,342.22 72.54,343.29 71.60,342.72 70.66,343.29 70.92,342.22 70.08,341.51 71.18,341.42" fill="#ef3030"/>
<polygon points="72.11,337.85 72.53,338.87 73.63,338.96 72.79,339.67 73.05,340.74 72.11,340.17 71.17,340.74 71.43,339.67 70.59,338.96 71.69,338.87" fill="#ef3030"/>
<polygon points="72.95,335.39 73.37,336.41 74.47,336.50 73.63,337.22 73.89,338.29 72.95,337.71 72.01,338.29 72.26,337.22 71.42,336.50 72.52,336.41" fill="#ef3030"/>
<polygon points="73.90,333.20 74.32,334.22 75.42,334.31 74.58,335.02 74.84,336.09 73.90,335.52 72.96,336.09 73.22,335.02 72.38,334.31 73.48,334.22" fill="#ef3030"/>
<polygon points="74.74,331.72 75.16,332.74 76.26,332.83 75.42,333.54 75.68,334.61 74.74,334.04 73.80,334.61 74.05,333.54 73.21,332.83 74.31,332.74" fill="#ef3030"/>
<polygon points="75.79,330.42 76.21,331.44 77.31,331.53 76.47,332.24 76.73,333.32 75.79,332.74 74.85,333.32 75.10,332.24 74.27,331.53 75.37,331.44" fill="#ef3030"/>
<polygon points="77.17,329.46 77.59,330.48 78.69,330.56 77.85,331.28 78.11,332.35 77.17,331.78 76.23,332.35 76.49,331.28 75.65,330.56 76.75,330.48" fill="#ef3030"/>
<polygon points="78.76,328.85 79.18,329.86 80.28,329.95 79.44,330.67 79.70,331.74 78.76,331.17 77.82,331.74 78.07,330.67 77.24,329.95 78.33,329.86" fill="#ef3030"/>
<polygon points="80.39,328.39 80.81,329.41 81.91,329.50 81.07,330.21 81.33,331.28 80.39,330.71 79.45,331.28 79.70,330.21 78.87,329.50 79.97,329.41" fill="#ef3030"/>
<polygon points="82.05,328.04 82.48,329.06 83.57,329.14 82.74,329.86 82.99,330.93 82.05,330.36 81.11,330.93 81.37,329.86 80.53,329.14 81.63,329.06" fill="#ef3030"/>
<polygon points="83.73,327.81 84.16,328.82 85.25,328.91 84.42,329.63 84.67,330.70 83.73,330.13 82.79,330.70 83.05,329.63 82.21,328.91 83.31,328.82" fill="#ef3030"/>
<polygon points="85.43,327.65 85.85,328.67 86.95,328.76 86.11,329.47 86.37,330.55 85.43,329.97 84.49,330.55 84.74,329.47 83.90,328.76 85.00,328.67" fill="#ef3030"/>
<polygon points="87.10,327.37 87.52,328.38 88.62,328.47 87.78,329.19 88.04,330.26 87.10,329.69 86.16,330.26 86.41,329.19 85.58,328.47 86.68,328.38" fill="#ef3030"/>
<polygon points="88.76,327.01 89.19,328.03 90.28,328.12 89.45,328.84 89.70,329.91 88.76,329.33 87.82,329.91 88.08,328.84 87.24,328.12 88.34,328.03" fill="#ef3030"/>
<polygon points="90.37,326.48 90.79,327.50 91.89,327.58 91.06,328.30 91.31,329.37 90.37,328.80 89.43,329.37 89.69,328.30 88.85,327.58 89.95,327.50" fill="#ef3030"/>
<polygon points="91.95,325.86 92.38,326.87 93.47,326.96 92.64,327.68 92.89,328.75 91.95,328.18 91.01,328.75 91.27,327.68 90.43,326.96 91.53,326.87" fill="#ef3030"/>
<polygon points="93.09,324.73 93.52,325.74 94.62,325.83 93.78,326.55 94.03,327.62 93.09,327.05 92.15,327.62 92.41,326.55 91.57,325.83 92.67,325.74" fill="#ef3030"/>
<polygon points="97.70,323.40 98.28,324.80 99.79,324.92 98.64,325.91 98.99,327.38 97.70,326.59 96.41,327.38 96.76,325.91 95.61,324.92 97.12,324.80" fill="#0a14c8"/>
<polygon points="102.50,323.00 103.08,324.40 104.59,324.52 103.44,325.51 103.79,326.98 102.50,326.19 101.21,326.98 101.56,325.51 100.41,324.52 101.92,324.40" fill="#0a14c8"/>
<polygon points="107.30,322.80 107.88,324.20 109.39,324.32 108.24,325.31 108.59,326.78 107.30,325.99 106.01,326.78 106.36,325.31 105.21,324.32 106.72,324.20" fill="#0a14c8"/>
<polygon points="112.00,322.60 112.58,324.00 114.09,324.12 112.94,325.11 113.29,326.58 112.00,325.79 110.71,326.58 111.06,325.11 109.91,324.12 111.42,324.00" fill="#0a14c8"/>
<polygon points="116.80,322.60 117.38,324.00 118.89,324.12 117.74,325.11 118.09,326.58 116.80,325.79 115.51,326.58 115.86,325.11 114.71,324.12 116.22,324.00" fill="#0a14c8"/>
<polygon points="121.60,323.00 122.18,324.40 123.69,324.52 122.54,325.51 122.89,326.98 121.60,326.19 120.31,326.98 120.66,325.51 119.51,324.52 121.02,324.40" fill="#0a14c8"/>
<polygon points="126.40,323.70 126.98,325.10 128.49,325.22 127.34,326.21 127.69,327.68 126.40,326.89 125.11,327.68 125.46,326.21 124.31,325.22 125.82,325.10" fill="#0a14c8"/>
<polygon points="130.20,325.10 130.78,326.50 132.29,326.62 131.14,327.61 131.49,329.08 130.20,328.29 128.91,329.08 129.26,327.61 128.11,326.62 129.62,326.50" fill="#0a14c8"/>
<polygon points="133.20,326.20 133.78,327.60 135.29,327.72 134.14,328.71 134.49,330.18 133.20,329.39 131.91,330.18 132.26,328.71 131.11,327.72 132.62,327.60" fill="#0a14c8"/>
<polygon points="135.90,326.40 136.48,327.80 137.99,327.92 136.84,328.91 137.19,330.38 135.90,329.59 134.61,330.38 134.96,328.91 133.81,327.92 135.32,327.80" fill="#0a14c8"/>
<polygon points="138.60,326.20 139.18,327.60 140.69,327.72 139.54,328.71 139.89,330.18 138.60,329.39 137.31,330.18 137.66,328.71 136.51,327.72 138.02,327.60" fill="#0a14c8"/>
<polygon points="141.40,325.10 141.98,326.50 143.49,326.62 142.34,327.61 142.69,329.08 141.40,328.29 140.11,329.08 140.46,327.61 139.31,326.62 140.82,326.50" fill="#0a14c8"/>
<polygon points="144.40,323.00 144.98,324.40 146.49,324.52 145.34,325.51 145.69,326.98 144.40,326.19 143.11,326.98 143.46,325.51 142.31,324.52 143.82,324.40" fill="#0a14c8"/>
<polygon points="147.50,320.30 148.08,321.70 149.59,321.82 148.44,322.81 148.79,324.28 147.50,323.49 146.21,324.28 146.56,322.81 145.41,321.82 146.92,321.70" fill="#0a14c8"/>
<polygon points="150.60,316.60 151.18,318.00 152.69,318.12 151.54,319.11 151.89,320.58 150.60,319.79 149.31,320.58 149.66,319.11 148.51,318.12 150.02,318.00" fill="#0a14c8"/>
<polygon points="154.30,311.20 154.88,312.60 156.39,312.72 155.24,313.71 155.59,315.18 154.30,314.39 153.01,315.18 153.36,313.71 152.21,312.72 153.72,312.60" fill="#0a14c8"/>
<polygon points="157.70,302.60 158.28,304.00 159.79,304.12 158.64,305.11 158.99,306.58 157.70,305.79 156.41,306.58 156.76,305.11 155.61,304.12 157.12,304.00" fill="#0a14c8"/>
<polygon points="164.40,289.50 164.98,290.90 166.49,291.02 165.34,292.01 165.69,293.48 164.40,292.69 163.11,293.48 163.46,292.01 162.31,291.02 163.82,290.90" fill="#0a14c8"/>
<polygon points="97.50,319.30 97.98,320.44 99.21,320.54 98.27,321.35 98.56,322.56 97.50,321.91 96.44,322.56 96.73,321.35 95.79,320.54 97.02,320.44" fill="#ef3030"/>
<polygon points="103.20,314.30 103.68,315.44 104.91,315.54 103.97,316.35 104.26,317.56 103.20,316.91 102.14,317.56 102.43,316.35 101.49,315.54 102.72,315.44" fill="#ef3030"/>
<polygon points="112.70,308.40 113.18,309.54 114.41,309.64 113.47,310.45 113.76,311.66 112.70,311.01 111.64,311.66 111.93,310.45 110.99,309.64 112.22,309.54" fill="#ef3030"/>
<polygon points="127.00,302.70 127.48,303.84 128.71,303.94 127.77,304.75 128.06,305.96 127.00,305.31 125.94,305.96 126.23,304.75 125.29,303.94 126.52,303.84" fill="#ef3030"/>
<polygon points="146.10,300.20 146.58,301.34 147.81,301.44 146.87,302.25 147.16,303.46 146.10,302.81 145.04,303.46 145.33,302.25 144.39,301.44 145.62,301.34" fill="#ef3030"/>
<polygon points="164.80,301.70 165.28,302.84 166.51,302.94 165.57,303.75 165.86,304.96 164.80,304.31 163.74,304.96 164.03,303.75 163.09,302.94 164.32,302.84" fill="#ef3030"/>
<polygon points="179.60,305.40 180.08,306.54 181.31,306.64 180.37,307.45 180.66,308.66 179.60,308.01 178.54,308.66 178.83,307.45 177.89,306.64 179.12,306.54" fill="#ef3030"/>
<polygon points="190.40,309.40 190.88,310.54 192.11,310.64 191.17,311.45 191.46,312.66 190.40,312.01 189.34,312.66 189.63,311.45 188.69,310.64 189.92,310.54" fill="#ef3030"/>
<polygon points="198.30,311.80 198.78,312.94 200.01,313.04 199.07,313.85 199.36,315.06 198.30,314.41 197.24,315.06 197.53,313.85 196.59,313.04 197.82,312.94" fill="#ef3030"/>
<polygon points="205.00,312.70 205.48,313.84 206.71,313.94 205.77,314.75 206.06,315.96 205.00,315.31 203.94,315.96 204.23,314.75 203.29,313.94 204.52,313.84" fill="#ef3030"/>
<polygon points="212.30,312.20 212.78,313.34 214.01,313.44 213.07,314.25 213.36,315.46 212.30,314.81 211.24,315.46 211.53,314.25 210.59,313.44 211.82,313.34" fill="#ef3030"/>
<polygon points="219.30,310.90 219.78,312.04 221.01,312.14 220.07,312.95 220.36,314.16 219.30,313.51 218.24,314.16 218.53,312.95 217.59,312.14 218.82,312.04" fill="#ef3030"/>
<polygon points="227.80,308.50 228.28,309.64 229.51,309.74 228.57,310.55 228.86,311.76 227.80,311.11 226.74,311.76 227.03,310.55 226.09,309.74 227.32,309.64" fill="#ef3030"/>
<polygon points="236.40,304.50 236.88,305.64 238.11,305.74 237.17,306.55 237.46,307.76 236.40,307.11 235.34,307.76 235.63,306.55 234.69,305.74 235.92,305.64" fill="#ef3030"/>
<polygon points="247.60,298.70 248.08,299.84 249.31,299.94 248.37,300.75 248.66,301.96 247.60,301.31 246.54,301.96 246.83,300.75 245.89,299.94 247.12,299.84" fill="#ef3030"/>
<polygon points="261.60,290.50 262.08,291.64 263.31,291.74 262.37,292.55 262.66,293.76 261.60,293.11 260.54,293.76 260.83,292.55 259.89,291.74 261.12,291.64" fill="#ef3030"/>
<polygon points="269.30,286.40 269.78,287.54 271.01,287.64 270.07,288.45 270.36,289.66 269.30,289.01 268.24,289.66 268.53,288.45 267.59,287.64 268.82,287.54" fill="#ef3030"/>
<rect x="415.45" y="18.30" width="5.70" height="86.20" fill="#fcc896" stroke="#e8a878" stroke-width="0.55"/>
<rect x="421.45" y="94.00" width="5.70" height="10.50" fill="#9cd898" stroke="#6cb06a" stroke-width="0.55"/>
<rect x="427.45" y="88.50" width="5.70" height="16.00" fill="#c6b4e2" stroke="#9a88bc" stroke-width="0.55"/>
<rect x="437.60" y="16.90" width="5.70" height="87.60" fill="#fcc896" stroke="#e8a878" stroke-width="0.55"/>
<rect x="443.60" y="98.50" width="5.70" height="6.00" fill="#9cd898" stroke="#6cb06a" stroke-width="0.55"/>
<rect x="449.60" y="96.10" width="5.70" height="8.40" fill="#c6b4e2" stroke="#9a88bc" stroke-width="0.55"/>
<rect x="459.75" y="24.20" width="5.70" height="80.30" fill="#fcc896" stroke="#e8a878" stroke-width="0.55"/>
<rect x="465.75" y="97.90" width="5.70" height="6.60" fill="#9cd898" stroke="#6cb06a" stroke-width="0.55"/>
<rect x="471.75" y="97.90" width="5.70" height="6.60" fill="#c6b4e2" stroke="#9a88bc" stroke-width="0.55"/>
<rect x="481.90" y="48.80" width="5.70" height="55.70" fill="#fcc896" stroke="#e8a878" stroke-width="0.55"/>
<rect x="487.90" y="98.60" width="5.70" height="5.90" fill="#9cd898" stroke="#6cb06a" stroke-width="0.55"/>
<rect x="493.90" y="97.60" width="5.70" height="6.90" fill="#c6b4e2" stroke="#9a88bc" stroke-width="0.55"/>
<rect x="504.05" y="51.50" width="5.70" height="53.00" fill="#fcc896" stroke="#e8a878" stroke-width="0.55"/>
<rect x="510.05" y="99.50" width="5.70" height="5.00" fill="#9cd898" stroke="#6cb06a" stroke-width="0.55"/>
<rect x="516.05" y="96.90" width="5.70" height="7.60" fill="#c6b4e2" stroke="#9a88bc" stroke-width="0.55"/>
<rect x="526.20" y="79.00" width="5.70" height="25.50" fill="#fcc896" stroke="#e8a878" stroke-width="0.55"/>
<rect x="532.20" y="97.90" width="5.70" height="6.60" fill="#9cd898" stroke="#6cb06a" stroke-width="0.55"/>
<rect x="538.20" y="83.20" width="5.70" height="21.30" fill="#c6b4e2" stroke="#9a88bc" stroke-width="0.55"/>
<rect x="414.1" y="19.20" width="131.89999999999998" height="1.5" fill="#fff"/>
<rect x="414.1" y="50.10" width="131.89999999999998" height="1.4" fill="#fff"/>
<rect x="414.1" y="81.50" width="131.89999999999998" height="1.2" fill="#fff"/>
<line x1="413.1" y1="11.0" x2="413.1" y2="104.5" stroke="#707070" stroke-width="1.3"/>
<line x1="412.6" y1="104.5" x2="546.6" y2="104.5" stroke="#383838" stroke-width="1.3"/>
<line x1="413.1" y1="11.5" x2="415.3" y2="11.5" stroke="#555" stroke-width="1"/>
<text x="410.60" y="14.70" font-size="9.4" text-anchor="end" fill="#1a1a1a" >0.45</text>
<line x1="413.1" y1="28.7" x2="415.3" y2="28.7" stroke="#555" stroke-width="1"/>
<text x="410.60" y="31.90" font-size="9.4" text-anchor="end" fill="#1a1a1a" >0.37</text>
<line x1="413.1" y1="57.6" x2="415.3" y2="57.6" stroke="#555" stroke-width="1"/>
<text x="410.60" y="60.80" font-size="9.4" text-anchor="end" fill="#1a1a1a" >0.29</text>
<line x1="413.1" y1="104.5" x2="415.3" y2="104.5" stroke="#555" stroke-width="1"/>
<text x="410.60" y="107.70" font-size="9.4" text-anchor="end" fill="#1a1a1a" >0.00</text>
<path d="M411.3 20.55 L414.5 18.349999999999998 M411.70000000000005 21.75 L414.90000000000003 19.55" stroke="#333" stroke-width="0.8"/>
<path d="M411.3 51.400000000000006 L414.5 49.2 M411.70000000000005 52.6 L414.90000000000003 50.400000000000006" stroke="#333" stroke-width="0.8"/>
<path d="M411.3 82.69999999999999 L414.5 80.5 M411.70000000000005 83.89999999999999 L414.90000000000003 81.69999999999999" stroke="#333" stroke-width="0.8"/>
<text x="423.20" y="114.60" font-size="9.5" text-anchor="middle" fill="#1a1a1a" style="stroke-width:0.2px">0%</text>
<text x="445.35" y="114.60" font-size="9.5" text-anchor="middle" fill="#1a1a1a" style="stroke-width:0.2px">20%</text>
<text x="467.50" y="114.60" font-size="9.5" text-anchor="middle" fill="#1a1a1a" style="stroke-width:0.2px">40%</text>
<text x="489.65" y="114.60" font-size="9.5" text-anchor="middle" fill="#1a1a1a" style="stroke-width:0.2px">60%</text>
<text x="511.80" y="114.60" font-size="9.5" text-anchor="middle" fill="#1a1a1a" style="stroke-width:0.2px">80%</text>
<text x="533.95" y="114.60" font-size="9.5" text-anchor="middle" fill="#1a1a1a" style="stroke-width:0.2px">100%</text>
<text x="479.70" y="123.80" font-size="9.6" text-anchor="middle" fill="#1a1a1a" >SOC</text>
<text transform="translate(390.6 57.9) rotate(-90)" font-size="9.9" text-anchor="middle" fill="#1a1a1a">Resistance/Ohm</text>
<rect x="420.3" y="4.3999999999999995" width="21.1" height="9.8" fill="#fcc896" stroke="#e8a878" stroke-width="0.6"/>
<text x="443.6" y="13.1" font-size="10" fill="#1a1a1a">R<tspan font-size="6.4" dy="2.7" style="stroke-width:0.15px">ohm</tspan></text>
<rect x="463.90000000000003" y="4.3999999999999995" width="21.1" height="9.8" fill="#9cd898" stroke="#6cb06a" stroke-width="0.6"/>
<text x="487.20000000000005" y="13.1" font-size="10" fill="#1a1a1a">R<tspan font-size="6.4" dy="2.7" style="stroke-width:0.15px">SEI</tspan></text>
<rect x="506.6" y="4.3999999999999995" width="21.1" height="9.8" fill="#c6b4e2" stroke="#9a88bc" stroke-width="0.6"/>
<text x="529.9" y="13.1" font-size="10" fill="#1a1a1a">R<tspan font-size="6.4" dy="2.7" style="stroke-width:0.15px">ct</tspan></text>
<rect x="415.45" y="145.50" width="5.70" height="81.10" fill="#fcc896" stroke="#e8a878" stroke-width="0.55"/>
<rect x="421.45" y="210.30" width="5.70" height="16.30" fill="#9cd898" stroke="#6cb06a" stroke-width="0.55"/>
<rect x="427.45" y="193.00" width="5.70" height="33.60" fill="#c6b4e2" stroke="#9a88bc" stroke-width="0.55"/>
<rect x="437.60" y="154.30" width="5.70" height="72.30" fill="#fcc896" stroke="#e8a878" stroke-width="0.55"/>
<rect x="443.60" y="217.30" width="5.70" height="9.30" fill="#9cd898" stroke="#6cb06a" stroke-width="0.55"/>
<rect x="449.60" y="212.70" width="5.70" height="13.90" fill="#c6b4e2" stroke="#9a88bc" stroke-width="0.55"/>
<rect x="459.75" y="166.20" width="5.70" height="60.40" fill="#fcc896" stroke="#e8a878" stroke-width="0.55"/>
<rect x="465.75" y="218.10" width="5.70" height="8.50" fill="#9cd898" stroke="#6cb06a" stroke-width="0.55"/>
<rect x="471.75" y="210.50" width="5.70" height="16.10" fill="#c6b4e2" stroke="#9a88bc" stroke-width="0.55"/>
<rect x="481.90" y="170.00" width="5.70" height="56.60" fill="#fcc896" stroke="#e8a878" stroke-width="0.55"/>
<rect x="487.90" y="217.20" width="5.70" height="9.40" fill="#9cd898" stroke="#6cb06a" stroke-width="0.55"/>
<rect x="493.90" y="212.00" width="5.70" height="14.60" fill="#c6b4e2" stroke="#9a88bc" stroke-width="0.55"/>
<rect x="504.05" y="167.70" width="5.70" height="58.90" fill="#fcc896" stroke="#e8a878" stroke-width="0.55"/>
<rect x="510.05" y="221.60" width="5.70" height="5.00" fill="#9cd898" stroke="#6cb06a" stroke-width="0.55"/>
<rect x="516.05" y="211.40" width="5.70" height="15.20" fill="#c6b4e2" stroke="#9a88bc" stroke-width="0.55"/>
<rect x="526.20" y="159.50" width="5.70" height="67.10" fill="#fcc896" stroke="#e8a878" stroke-width="0.55"/>
<rect x="532.20" y="219.20" width="5.70" height="7.40" fill="#9cd898" stroke="#6cb06a" stroke-width="0.55"/>
<rect x="538.20" y="189.20" width="5.70" height="37.40" fill="#c6b4e2" stroke="#9a88bc" stroke-width="0.55"/>
<rect x="414.4" y="188.40" width="131.60000000000002" height="1.15" fill="#fff"/>
<rect x="414.4" y="191.15" width="131.60000000000002" height="1.15" fill="#fff"/>
<line x1="413.4" y1="132.7" x2="413.4" y2="226.6" stroke="#3a3a3a" stroke-width="1.05"/>
<line x1="412.9" y1="226.6" x2="546.6" y2="226.6" stroke="#383838" stroke-width="1.3"/>
<line x1="413.4" y1="143.7" x2="415.59999999999997" y2="143.7" stroke="#555" stroke-width="1"/>
<text x="410.60" y="146.90" font-size="9.4" text-anchor="end" fill="#1a1a1a" >0.20</text>
<line x1="413.4" y1="171.4" x2="415.59999999999997" y2="171.4" stroke="#555" stroke-width="1"/>
<text x="410.60" y="174.60" font-size="9.4" text-anchor="end" fill="#1a1a1a" >0.17</text>
<line x1="413.4" y1="189.6" x2="415.59999999999997" y2="189.6" stroke="#555" stroke-width="1"/>
<text x="410.60" y="192.80" font-size="9.4" text-anchor="end" fill="#1a1a1a" >0.05</text>
<line x1="413.4" y1="226.6" x2="415.59999999999997" y2="226.6" stroke="#555" stroke-width="1"/>
<text x="410.60" y="229.80" font-size="9.4" text-anchor="end" fill="#1a1a1a" >0.00</text>
<path d="M411.59999999999997 189.575 L414.79999999999995 187.375 M412.0 190.775 L415.2 188.575" stroke="#333" stroke-width="0.8"/>
<path d="M411.59999999999997 192.325 L414.79999999999995 190.125 M412.0 193.525 L415.2 191.325" stroke="#333" stroke-width="0.8"/>
<text x="423.20" y="237.20" font-size="9.5" text-anchor="middle" fill="#1a1a1a" style="stroke-width:0.2px">0%</text>
<text x="445.35" y="237.20" font-size="9.5" text-anchor="middle" fill="#1a1a1a" style="stroke-width:0.2px">20%</text>
<text x="467.50" y="237.20" font-size="9.5" text-anchor="middle" fill="#1a1a1a" style="stroke-width:0.2px">40%</text>
<text x="489.65" y="237.20" font-size="9.5" text-anchor="middle" fill="#1a1a1a" style="stroke-width:0.2px">60%</text>
<text x="511.80" y="237.20" font-size="9.5" text-anchor="middle" fill="#1a1a1a" style="stroke-width:0.2px">80%</text>
<text x="533.95" y="237.20" font-size="9.5" text-anchor="middle" fill="#1a1a1a" style="stroke-width:0.2px">100%</text>
<text x="479.70" y="246.30" font-size="9.6" text-anchor="middle" fill="#1a1a1a" >SOC</text>
<text transform="translate(390.6 180.4) rotate(-90)" font-size="9.9" text-anchor="middle" fill="#1a1a1a">Resistance/Ohm</text>
<rect x="420.3" y="130.0" width="21.1" height="9.8" fill="#fcc896" stroke="#e8a878" stroke-width="0.6"/>
<text x="443.6" y="138.7" font-size="10" fill="#1a1a1a">R<tspan font-size="6.4" dy="2.7" style="stroke-width:0.15px">ohm</tspan></text>
<rect x="463.90000000000003" y="130.0" width="21.1" height="9.8" fill="#9cd898" stroke="#6cb06a" stroke-width="0.6"/>
<text x="487.20000000000005" y="138.7" font-size="10" fill="#1a1a1a">R<tspan font-size="6.4" dy="2.7" style="stroke-width:0.15px">SEI</tspan></text>
<rect x="506.6" y="130.0" width="21.1" height="9.8" fill="#c6b4e2" stroke="#9a88bc" stroke-width="0.6"/>
<text x="529.9" y="138.7" font-size="10" fill="#1a1a1a">R<tspan font-size="6.4" dy="2.7" style="stroke-width:0.15px">ct</tspan></text>
<rect x="415.45" y="280.30" width="5.70" height="68.70" fill="#fcc896" stroke="#e8a878" stroke-width="0.55"/>
<rect x="421.45" y="327.00" width="5.70" height="22.00" fill="#9cd898" stroke="#6cb06a" stroke-width="0.55"/>
<rect x="427.45" y="304.30" width="5.70" height="44.70" fill="#c6b4e2" stroke="#9a88bc" stroke-width="0.55"/>
<rect x="437.60" y="281.90" width="5.70" height="67.10" fill="#fcc896" stroke="#e8a878" stroke-width="0.55"/>
<rect x="443.60" y="337.70" width="5.70" height="11.30" fill="#9cd898" stroke="#6cb06a" stroke-width="0.55"/>
<rect x="449.60" y="331.90" width="5.70" height="17.10" fill="#c6b4e2" stroke="#9a88bc" stroke-width="0.55"/>
<rect x="459.75" y="282.60" width="5.70" height="66.40" fill="#fcc896" stroke="#e8a878" stroke-width="0.55"/>
<rect x="465.75" y="340.50" width="5.70" height="8.50" fill="#9cd898" stroke="#6cb06a" stroke-width="0.55"/>
<rect x="471.75" y="332.00" width="5.70" height="17.00" fill="#c6b4e2" stroke="#9a88bc" stroke-width="0.55"/>
<rect x="481.90" y="283.10" width="5.70" height="65.90" fill="#fcc896" stroke="#e8a878" stroke-width="0.55"/>
<rect x="487.90" y="341.40" width="5.70" height="7.60" fill="#9cd898" stroke="#6cb06a" stroke-width="0.55"/>
<rect x="493.90" y="332.90" width="5.70" height="16.10" fill="#c6b4e2" stroke="#9a88bc" stroke-width="0.55"/>
<rect x="504.05" y="283.40" width="5.70" height="65.60" fill="#fcc896" stroke="#e8a878" stroke-width="0.55"/>
<rect x="510.05" y="337.60" width="5.70" height="11.40" fill="#9cd898" stroke="#6cb06a" stroke-width="0.55"/>
<rect x="516.05" y="330.30" width="5.70" height="18.70" fill="#c6b4e2" stroke="#9a88bc" stroke-width="0.55"/>
<rect x="526.20" y="283.70" width="5.70" height="65.30" fill="#fcc896" stroke="#e8a878" stroke-width="0.55"/>
<rect x="532.20" y="340.80" width="5.70" height="8.20" fill="#9cd898" stroke="#6cb06a" stroke-width="0.55"/>
<rect x="538.20" y="299.10" width="5.70" height="49.90" fill="#c6b4e2" stroke="#9a88bc" stroke-width="0.55"/>
<rect x="414.5" y="301.80" width="131.5" height="1.5" fill="#fff"/>
<line x1="413.5" y1="256.0" x2="413.5" y2="349.0" stroke="#3a3a3a" stroke-width="1.05"/>
<line x1="413.0" y1="349.0" x2="546.6" y2="349.0" stroke="#383838" stroke-width="1.3"/>
<line x1="413.5" y1="256.8" x2="415.7" y2="256.8" stroke="#555" stroke-width="1"/>
<text x="410.60" y="260.00" font-size="9.4" text-anchor="end" fill="#1a1a1a" >0.08</text>
<line x1="413.5" y1="285.5" x2="415.7" y2="285.5" stroke="#555" stroke-width="1"/>
<text x="410.60" y="288.70" font-size="9.4" text-anchor="end" fill="#1a1a1a" >0.06</text>
<line x1="413.5" y1="319.1" x2="415.7" y2="319.1" stroke="#555" stroke-width="1"/>
<text x="410.60" y="322.30" font-size="9.4" text-anchor="end" fill="#1a1a1a" >0.02</text>
<line x1="413.5" y1="349.0" x2="415.7" y2="349.0" stroke="#555" stroke-width="1"/>
<text x="410.60" y="352.20" font-size="9.4" text-anchor="end" fill="#1a1a1a" >0.00</text>
<path d="M411.7 303.15000000000003 L414.9 300.95 M412.1 304.35 L415.3 302.15000000000003" stroke="#333" stroke-width="0.8"/>
<text x="423.20" y="359.20" font-size="9.5" text-anchor="middle" fill="#1a1a1a" style="stroke-width:0.2px">0%</text>
<text x="445.35" y="359.20" font-size="9.5" text-anchor="middle" fill="#1a1a1a" style="stroke-width:0.2px">20%</text>
<text x="467.50" y="359.20" font-size="9.5" text-anchor="middle" fill="#1a1a1a" style="stroke-width:0.2px">40%</text>
<text x="489.65" y="359.20" font-size="9.5" text-anchor="middle" fill="#1a1a1a" style="stroke-width:0.2px">60%</text>
<text x="511.80" y="359.20" font-size="9.5" text-anchor="middle" fill="#1a1a1a" style="stroke-width:0.2px">80%</text>
<text x="533.95" y="359.20" font-size="9.5" text-anchor="middle" fill="#1a1a1a" style="stroke-width:0.2px">100%</text>
<text x="479.70" y="368.90" font-size="9.6" text-anchor="middle" fill="#1a1a1a" >SOC</text>
<text transform="translate(390.6 301.4) rotate(-90)" font-size="9.9" text-anchor="middle" fill="#1a1a1a">Resistance/Ohm</text>
<rect x="420.3" y="256.3" width="21.1" height="9.8" fill="#fcc896" stroke="#e8a878" stroke-width="0.6"/>
<text x="443.6" y="265.0" font-size="10" fill="#1a1a1a">R<tspan font-size="6.4" dy="2.7" style="stroke-width:0.15px">ohm</tspan></text>
<rect x="463.90000000000003" y="256.3" width="21.1" height="9.8" fill="#9cd898" stroke="#6cb06a" stroke-width="0.6"/>
<text x="487.20000000000005" y="265.0" font-size="10" fill="#1a1a1a">R<tspan font-size="6.4" dy="2.7" style="stroke-width:0.15px">SEI</tspan></text>
<rect x="506.6" y="256.3" width="21.1" height="9.8" fill="#c6b4e2" stroke="#9a88bc" stroke-width="0.6"/>
<text x="529.9" y="265.0" font-size="10" fill="#1a1a1a">R<tspan font-size="6.4" dy="2.7" style="stroke-width:0.15px">ct</tspan></text>
</svg></body></html>
